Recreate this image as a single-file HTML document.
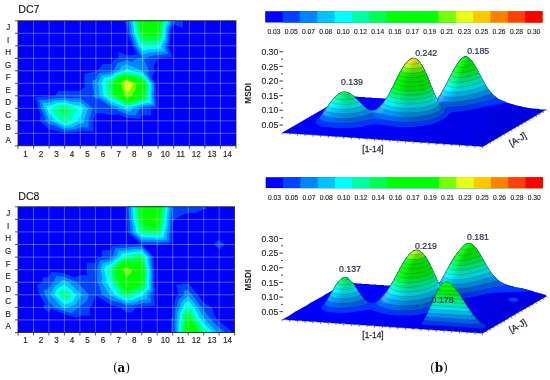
<!DOCTYPE html>
<html><head><meta charset="utf-8"><title>MSDI DC7 DC8</title>
<style>html,body{margin:0;padding:0;background:#fff}svg{display:block}text{font-family:"Liberation Sans",Arial,sans-serif}.cap text{font-family:"DejaVu Serif","Liberation Serif",serif}</style>
</head><body>
<svg width="550" height="380" viewBox="0 0 550 380">
<rect width="550" height="380" fill="#fff"/>
<text x="18.3" y="13.3" font-size="10.6" fill="#1a1a1a" stroke="#1a1a1a" stroke-width="0.15">DC7</text>
<rect x="18" y="20.8" width="218" height="125" fill="#0000ff"/>
<g><path d="M183.2,20.8 182.3,27.7 173.7,23.9 170.6,30.8 170.3,33.3 169.9,42.8 168.2,45.8 172,56.9 158.1,58.1 157.9,58.1 157.4,58.3 153.5,67 155,70.8 151.9,78.3 155.8,83.3 155.8,93.9 155.7,95.8 157.1,107.5 151.1,108.3 151.1,115.2 142.6,115.2 140.2,118.9 127,118.1 118.3,113.8 111.4,115.2 102.1,113.3 95.9,113.3 94,119.3 93.4,120.8 93.4,131.4 80.3,131 78.5,131.9 64.7,132.9 63.3,132.2 49.1,129.4 39.5,120.8 40.8,114.1 38,108.3 35.4,97.2 49.1,96.5 49.7,96.3 55.4,95.8 58.5,90.8 64.7,90.8 74.1,90.8 80.3,90.8 85,87 84.3,83.3 84.3,74 95.9,71.3 96,70.9 97.2,70.8 102.9,63.9 111.4,63.9 113.4,59.9 118.4,58.3 118.4,51.4 127,55.5 137.1,53.9 132.3,45.8 127.8,33.9 127.5,33.3 127,28.3 124.9,20.8 127,20.8 142.6,20.8 158.1,20.8 173.7,20.8Z" fill="#0040ff"/>
<path d="M172.8,20.8 169,29.5 168.5,33.3 168.2,41.3 165.6,45.8 168.5,54.1 158.1,55 154.3,55.2 144.7,58.3 144.1,59.5 148.8,70.8 147.2,74.5 154.1,83.3 154.1,92.5 153.8,95.8 155,105.8 142.6,107.5 141.9,107.8 139.8,108.3 135.6,115.2 127,114.6 114.2,108.3 111.4,107.2 100.5,99.5 95.9,98.3 92.7,95.8 94.3,94.5 92.3,83.3 92.3,80.4 95.9,79.6 98.8,73.1 111.4,71.8 112,71.3 113.6,70.8 117.4,63.1 127,60 131.4,61.8 137.9,58.3 141.8,57.7 134.7,45.8 131.3,36.7 129.7,33.3 128.6,22.1 128.3,20.8 142.6,20.8 158.1,20.8ZM49.1,99.6 52.4,98.4 64.7,97.4 67.8,98.3 80.3,98.3 92.7,108.3 90.3,116.3 88.6,120.8 88.6,127.5 80.3,127.3 75.7,129.6 64.7,130.4 55.1,125.6 49.1,124.4 45.1,120.8 45.7,118 40.9,108.3 39,100.1Z" fill="#0084ff"/>
<path d="M170.6,20.8 167.3,28.2 166.7,33.3 166.4,39.9 163.1,45.8 165,51.3 158.1,51.9 150.7,52.3 142.6,54.9 137.2,45.8 134.8,39.5 132,33.3 131.1,24.1 130.3,20.8 142.6,20.8 158.1,20.8ZM127,64.5 142.6,70.8 152.3,83.3 152.3,91.1 151.9,95.8 153,104.1 142.6,105.6 140.2,106.4 132.8,108.3 130.9,111.4 127,111.2 121.2,108.3 111.4,104.4 99.2,95.8 98.3,85.2 97.9,83.3 101.5,75.3 111.4,74.3 113.5,72.4 119.2,70.8 121.4,66.3ZM49.1,102.6 55.1,100.6 64.7,99.8 72.5,102 80.3,102 88.1,108.3 86.5,113.3 83.8,120.8 83.8,123.6 80.3,123.5 72.8,127.3 64.7,127.9 50.5,120.8 49.1,119.2 43.8,108.3 42.6,103Z" fill="#00c4ff"/>
<path d="M168.4,20.8 165.7,26.8 164.9,33.3 164.7,38.5 160.5,45.8 161.5,48.5 158.1,48.8 147,49.4 142.6,50.8 139.6,45.8 138.3,42.4 134.2,33.3 133.5,26 132.3,20.8 142.6,20.8 158.1,20.8ZM127,69 131.4,70.8 142.6,73 150.6,83.3 150.6,89.7 150,95.8 150.9,102.5 142.6,103.6 138.5,105 127,108 125.8,107.4 111.4,101.6 103.2,95.8 102.6,88.7 101.7,83.3 104.3,77.5 111.4,76.8 114.9,73.6 124.8,70.8 125.4,69.5ZM49.1,105.7 57.8,102.8 64.7,102.2 77.2,105.8 80.3,105.8 83.4,108.3 82.8,110.3 80.3,117.1 78.8,119.6 78.2,120.8 70,125 64.7,125.4 55.5,120.8 49.1,113.2 46.7,108.3 46.1,105.9Z" fill="#00ffff"/>
<path d="M166.1,20.8 164,25.5 163.1,33.3 162.9,37.1 158.1,45.6 157.8,45.6 155,45.8 143.4,46.4 142.6,46.7 142,45.8 141.8,45.2 136.5,33.3 135.9,28 134.3,20.8 142.6,20.8 158.1,20.8ZM111.4,79.3 116.4,74.8 127,71.8 129.3,72.6 142.6,75.3 148.8,83.3 148.8,88.3 148.2,95.8 148.8,100.8 142.6,101.7 136.8,103.7 127,106.2 118.8,101.7 111.4,98.8 107.2,95.8 106.9,92.1 105.4,83.3 107,79.7ZM64.7,104.6 77.5,108.3 73.3,115.2 70.9,120.8 67.1,122.7 64.7,122.9 60.5,120.8 51.7,110.4 50.6,108.3 60.5,104.9Z" fill="#00ffa0"/>
<path d="M163.9,20.8 162.4,24.2 161.3,33.3 161.2,35.7 158.1,41 152.2,41 142.6,41.9 138.7,33.3 138.4,29.9 136.3,20.8 142.6,20.8 158.1,20.8ZM111.4,81.8 117.8,75.9 127,73.4 133,75.6 142.6,77.5 147,83.3 147,86.9 146.3,95.8 146.7,99.1 142.6,99.7 135.1,102.3 127,104.4 111.8,96.1 111.4,96 111.2,95.8 111.2,95.6 109.1,83.3 109.7,82ZM64.7,107 69.3,108.3 67.8,110.8 64.7,117.9 59.7,108.3 63.2,107.1Z" fill="#00ff50"/>
<path d="M161.6,20.8 160.7,22.9 159.4,33.3 159.4,34.3 158.1,36.5 146.6,36.5 142.6,36.9 141,33.3 140.8,31.9 138.3,20.8 142.6,20.8 158.1,20.8ZM127,74.9 136.8,78.6 142.6,79.8 145.3,83.3 145.3,85.5 144.4,95.8 144.6,97.5 142.6,97.8 133.4,101 127,102.6 114.5,95.8 112.9,84.5 112.5,83.3 119.3,77.1Z" fill="#00ff00"/>
<path d="M159.4,20.8 159.1,21.5 158.1,29.1 155,30.8 142.6,30.8 140.3,20.8 142.6,20.8 158.1,20.8ZM127,76.5 140.5,81.6 142.6,82 143.5,83.3 143.5,84.1 142.6,95.8 142.6,95.8 131.7,99.6 127,100.8 117.8,95.8 116.6,87.5 115.2,83.3 120.8,78.3Z" fill="#00ff00"/>
<path d="M145.7,20.8 143.8,21.8 142.6,21.8 142.3,20.8 142.6,20.8ZM127,78.1 140.7,83.3 138.9,92.9 137,95.8 130,98.2 127,99 121.1,95.8 120.4,90.5 118,83.3 122.2,79.5Z" fill="#00ff00"/>
<path d="M127,79.7 136.5,83.3 135.3,90 131.4,95.8 128.3,96.9 127,97.2 124.4,95.8 124.1,93.5 120.7,83.3 123.7,80.6Z" fill="#78ff08"/>
<path d="M127,81.3 132.3,83.3 131.7,87 127,93.9 123.5,83.3 125.1,81.8Z" fill="#e4ff18"/>
<path d="M127,82.9 128.2,83.3 128,84.1 127,85.6 126.2,83.3 126.6,83Z" fill="#ffc800"/></g>
<path d="M33.6,20.8V145.8M49.1,20.8V145.8M64.7,20.8V145.8M80.3,20.8V145.8M95.9,20.8V145.8M111.4,20.8V145.8M127,20.8V145.8M142.6,20.8V145.8M158.1,20.8V145.8M173.7,20.8V145.8M189.3,20.8V145.8M204.9,20.8V145.8M220.4,20.8V145.8M18,33.3H236M18,45.8H236M18,58.3H236M18,70.8H236M18,83.3H236M18,95.8H236M18,108.3H236M18,120.8H236M18,133.3H236" stroke="#e0e0e8" stroke-opacity="0.55" stroke-width="0.7" fill="none"/>
<rect x="18" y="20.8" width="218" height="125" fill="none" stroke="#222" stroke-width="0.8"/>
<path d="M18,145.8v3M33.6,145.8v3M49.1,145.8v3M64.7,145.8v3M80.3,145.8v3M95.9,145.8v3M111.4,145.8v3M127,145.8v3M142.6,145.8v3M158.1,145.8v3M173.7,145.8v3M189.3,145.8v3M204.9,145.8v3M220.4,145.8v3M236,145.8v3M18,20.8h-3M18,33.3h-3M18,45.8h-3M18,58.3h-3M18,70.8h-3M18,83.3h-3M18,95.8h-3M18,108.3h-3M18,120.8h-3M18,133.3h-3M18,145.8h-3" stroke="#2a2a2a" stroke-width="0.8" fill="none"/>
<g font-size="8.7" fill="#222" stroke="#222" stroke-width="0.15" text-anchor="middle">
<text transform="translate(25.5,156.9) scale(0.93,1)">1</text>
<text transform="translate(41,156.9) scale(0.93,1)">2</text>
<text transform="translate(56.6,156.9) scale(0.93,1)">3</text>
<text transform="translate(72.1,156.9) scale(0.93,1)">4</text>
<text transform="translate(87.6,156.9) scale(0.93,1)">5</text>
<text transform="translate(103.1,156.9) scale(0.93,1)">6</text>
<text transform="translate(118.7,156.9) scale(0.93,1)">7</text>
<text transform="translate(134.2,156.9) scale(0.93,1)">8</text>
<text transform="translate(149.7,156.9) scale(0.93,1)">9</text>
<text transform="translate(165.3,156.9) scale(0.93,1)">10</text>
<text transform="translate(180.8,156.9) scale(0.93,1)">11</text>
<text transform="translate(196.3,156.9) scale(0.93,1)">12</text>
<text transform="translate(211.9,156.9) scale(0.93,1)">13</text>
<text transform="translate(227.4,156.9) scale(0.93,1)">14</text>
<text transform="translate(8.2,30.2) scale(0.93,1)">J</text>
<text transform="translate(8.2,42.8) scale(0.93,1)">I</text>
<text transform="translate(8.2,55.2) scale(0.93,1)">H</text>
<text transform="translate(8.2,67.8) scale(0.93,1)">G</text>
<text transform="translate(8.2,80.2) scale(0.93,1)">F</text>
<text transform="translate(8.2,92.8) scale(0.93,1)">E</text>
<text transform="translate(8.2,105.2) scale(0.93,1)">D</text>
<text transform="translate(8.2,117.8) scale(0.93,1)">C</text>
<text transform="translate(8.2,130.2) scale(0.93,1)">B</text>
<text transform="translate(8.2,142.8) scale(0.93,1)">A</text>
</g>
<text x="18.3" y="199.8" font-size="10.6" fill="#1a1a1a" stroke="#1a1a1a" stroke-width="0.15">DC8</text>
<rect x="18" y="206.8" width="216.6" height="125.7" fill="#0000ff"/>
<g><path d="M206.5,206.8 206.5,209.1 203.7,209.1 195.9,213.1 188.2,213.1 182.6,214.8 174.3,219.4 174.3,220.6 172.7,221.9 172.3,231.6 172.1,231.9 171.4,243.5 158.8,244.5 158.8,245.8 157.2,244.9 142.3,244.9 153.8,257.1 153.8,266.8 154.4,269.7 154.4,279.9 154.3,282.2 155.1,293.1 153.6,294.8 155.3,305.7 141.8,306.6 141.2,306.9 135.6,307.4 132.5,312.4 126.3,312.4 120.1,307.4 110.8,305.1 96.9,296 95.4,296 92.6,305.1 89.8,307.4 89.8,315.4 79.9,315.4 77.1,317.7 64.4,313.8 51,309 48.9,312.4 42.8,307.4 45.2,304.3 39.4,294.8 37,285 42.8,282.2 42.8,277.2 48.9,277.2 51.5,271.7 64.4,273.3 74.2,277.6 79.9,275.3 86.8,275.3 86.8,269.7 86.8,262.7 95.4,262.7 96.8,258.3 102.3,257.1 102.3,250.2 110.8,250.2 112.4,245.8 126.3,245.1 126.9,245 138.7,244.5 140.2,243.3 127.7,231.9 127,219.9 126.8,219.4 126.3,206.8 141.8,206.8 157.2,206.8 172.7,206.8 188.2,206.8 203.7,206.8ZM171.2,332.5 171.2,331.2 171.2,319.9 171.2,318.7 172.7,317.4 173.2,307.8 173.4,307.4 175.7,297.2 178.6,294.8 176.2,285 188.2,283.3 197.8,294.8 203.7,302.8 212.2,307.4 215,316.6 217.8,319.9 219.1,321.4 232.8,332.5 219.1,332.5 203.7,332.5 188.2,332.5 172.7,332.5ZM219.1,240.1 224.5,244.5 222.4,247.1 219.1,248.9 213.7,244.5 215.9,241.9Z" fill="#0040ff"/>
<path d="M172.5,206.8 170.8,217.9 170.7,219.4 170.2,229.9 169.5,231.9 168.9,241.4 157.2,242.4 154.3,242.1 141.8,242.1 130.5,231.9 129.9,222.3 129,219.4 128.6,208.7 128.4,206.8 141.8,206.8 157.2,206.8ZM174.6,332.5 174.6,321.5 174.9,319.9 175.4,309.6 176.7,307.4 178.4,299.4 184.2,294.8 183.2,290.7 188.2,290 192.2,294.8 198.2,303 202.1,307.4 203.7,310.3 211.6,319.9 219.1,327.8 224.9,332.5 219.1,332.5 203.7,332.5 188.2,332.5ZM219.1,243.9 219.9,244.5 219.6,244.9 219.1,245.1 218.4,244.5 218.7,244.1ZM126.3,247.8 129.5,247.1 141.8,246.6 151.6,257.1 151.6,265.1 152.7,269.7 152.7,278.5 152.4,282.2 153.2,291.5 150.1,294.8 151.3,302.5 141.8,303.1 138.4,304.6 126.3,305.7 121,303.1 110.8,300.6 101.9,294.8 99,285.2 97.2,282.2 97.2,271.1 96.8,269.7 99.8,260.7 110.8,258.3 111.5,257.6 112.4,257.1 115.5,248.3ZM64.4,276.8 76.8,282.2 79.9,285.2 88.8,294.8 87,300.6 79.9,306.4 79.5,307.1 78.6,307.4 71.5,313.1 64.4,311 54.2,307.4 48.9,301.3 44.9,294.8 43.9,290.7 48.9,288.3 51,283.9 53.6,282.2 56.5,275.8Z" fill="#0084ff"/>
<path d="M170.3,206.8 168.9,216.2 168.5,219.4 168.1,228.2 166.8,231.9 166.4,239.4 157.2,240.1 151.2,239.6 141.8,239.6 133.3,231.9 132.8,224.7 131.3,219.4 130.9,210.5 130.6,206.8 141.8,206.8 157.2,206.8ZM176.6,332.5 176.6,323.1 177.2,319.9 177.7,311.4 180,307.4 181.2,301.7 188.2,296 198.1,307.4 203.7,317.8 205.4,319.9 211.4,326.2 217.8,332.5 203.7,332.5 188.2,332.5ZM126.3,250.4 132.2,249.3 141.8,248.9 149.5,257.1 149.5,263.4 151,269.7 151,277.1 150.5,282.2 151.2,289.9 146.6,294.8 147.3,299.3 141.8,299.6 135.6,302.3 126.3,303.2 113,296.6 110.8,296 108.9,294.8 108.2,292.7 101.8,282.2 101.8,274.9 100.5,269.7 102.7,263 110.8,261.3 113.1,258.9 116.4,257.1 118.6,250.8ZM64.4,280.3 68.8,282.2 79.9,292.7 81.8,294.8 81.4,296 79.9,297.3 76.1,304.3 67.5,307.4 66,308.6 64.4,308.1 62.2,307.4 56.7,301.1 50.1,294.8 54,286.3 60.5,282.2 61.6,279.9Z" fill="#00c4ff"/>
<path d="M168,206.8 166.9,214.6 166.4,219.4 166.1,226.5 164.2,231.9 163.9,237.3 157.2,237.8 148.1,237.1 141.8,237.1 136,231.9 135.7,227 133.5,219.4 133.2,212.4 132.7,206.8 141.8,206.8 157.2,206.8ZM178.7,332.5 178.7,324.8 179.5,319.9 179.9,313.2 183.3,307.4 184,304 188.2,300.6 194.2,307.4 198.6,315.8 201.1,319.9 203.7,323.2 213.2,332.5 203.7,332.5 188.2,332.5ZM126.3,253.1 134.8,251.5 141.8,251.2 147.4,257.1 147.4,261.6 149.2,269.7 149.2,275.7 148.7,282.2 149.2,288.2 143.1,294.8 143.3,296 141.8,296.1 132.8,300.1 126.3,300.7 114.5,294.8 110.8,289.3 106.4,282.2 106.4,278.7 104.2,269.7 105.6,265.4 110.8,264.3 114.8,260.3 120.3,257.1 121.7,253.3ZM64.4,284.2 76.4,294.8 72.7,301.5 64.4,304.5 54.3,294.8 57,288.8Z" fill="#00ffff"/>
<path d="M165.8,206.8 164.9,213 164.3,219.4 164,224.9 161.5,231.9 161.3,235.3 157.2,235.6 145,234.6 141.8,234.6 138.8,231.9 138.7,229.4 135.7,219.4 135.5,214.3 134.8,206.8 141.8,206.8 157.2,206.8ZM180.7,332.5 180.7,326.4 181.9,319.9 182.1,315 186.5,307.4 186.8,306.2 188.2,305.1 190.2,307.4 191.7,310.2 197.7,319.9 203.7,327.7 208.6,332.5 203.7,332.5 188.2,332.5ZM126.3,255.7 137.5,253.6 141.8,253.4 145.2,257.1 145.2,259.9 147.5,269.7 147.5,274.3 146.8,282.2 147.2,286.6 141.8,292.5 139.9,293.3 136.9,294.8 130,297.8 126.3,298.1 119.5,294.8 111.4,282.7 111,282.2 110.8,281.4 107.9,269.7 108.5,267.8 110.8,267.3 116.4,261.6 124.3,257.1 124.8,255.8ZM64.4,288.5 71.5,294.8 69.3,298.8 64.4,300.5 58.4,294.8 60,291.2Z" fill="#00ffa0"/>
<path d="M163.6,206.8 162.9,211.4 162.1,219.4 161.9,223.2 158.9,231.9 158.8,233.2 157.2,233.3 141.9,232.1 141.8,232.1 141.6,231.9 141.6,231.8 137.9,219.4 137.8,216.1 136.9,206.8 141.8,206.8 157.2,206.8ZM182.7,332.5 182.7,328 184.2,319.9 184.3,316.8 188.2,310.2 194.2,319.9 203.7,332.2 203.9,332.5 203.7,332.5 188.2,332.5ZM141.8,255.7 143.1,257.1 143.1,258.1 145.7,269.7 145.7,272.9 145,282.2 145.2,285 141.8,288.7 136.8,290.7 129,294.8 127.2,295.5 126.3,295.6 124.6,294.8 122.6,291.8 114.5,282.2 111.8,270.4 111.5,269.7 118.1,263 126.3,258.2 129.1,259.3 133.3,257.1 140.2,255.8ZM64.4,292.9 66.6,294.8 65.9,296 64.4,296.6 62.6,294.8 63.1,293.7Z" fill="#00ff50"/>
<path d="M161.4,206.8 161,209.8 160,219.4 159.9,221.5 157.2,229 151.8,227.5 141.8,224.8 140.2,219.4 140.1,218 139.1,206.8 141.8,206.8 157.2,206.8ZM184.7,332.5 184.7,329.7 186.5,319.9 186.6,318.6 188.2,315.8 190.7,319.9 194.9,325.4 198.2,332.5 188.2,332.5ZM126.3,260.5 134.7,263.9 141.8,260 144,269.7 144,271.5 143.1,282.2 143.2,283.4 141.8,284.9 133.7,288.2 126.3,292 118,282.2 116.1,273.9 114.4,269.7 119.7,264.3Z" fill="#00ff00"/>
<path d="M159.2,206.8 159,208.2 157.8,219.4 157.8,219.8 157.2,221.5 149.5,219.4 141.8,213.1 141.2,206.8 141.8,206.8 157.2,206.8ZM186.7,332.5 186.7,331.3 188.2,323.4 192.4,332.5 188.2,332.5ZM126.3,262.8 140.2,268.4 141.8,267.6 142.3,269.7 142.3,270 141.8,275.9 140.5,281.2 139.2,282.2 130.6,285.7 126.3,287.9 121.5,282.2 120.3,277.4 117.4,269.7 121.4,265.6Z" fill="#00ff00"/>
<path d="M126.3,265.1 137.7,269.7 135.7,277.3 129.9,282.2 127.5,283.2 126.3,283.8 124.9,282.2 124.6,280.9 120.4,269.6 123,267Z" fill="#00ff00"/>
<path d="M126.3,267.4 132,269.7 131,273.5 126.3,277.5 123.3,269.7 124.7,268.3Z" fill="#78ff08"/>
<path d="M126.3,269.7 126.3,269.7 126.3,269.7 126.3,269.6Z" fill="#e4ff18"/></g>
<path d="M33.5,206.8V332.5M48.9,206.8V332.5M64.4,206.8V332.5M79.9,206.8V332.5M95.4,206.8V332.5M110.8,206.8V332.5M126.3,206.8V332.5M141.8,206.8V332.5M157.2,206.8V332.5M172.7,206.8V332.5M188.2,206.8V332.5M203.7,206.8V332.5M219.1,206.8V332.5M18,219.4H234.6M18,231.9H234.6M18,244.5H234.6M18,257.1H234.6M18,269.7H234.6M18,282.2H234.6M18,294.8H234.6M18,307.4H234.6M18,319.9H234.6" stroke="#e0e0e8" stroke-opacity="0.55" stroke-width="0.7" fill="none"/>
<rect x="18" y="206.8" width="216.6" height="125.7" fill="none" stroke="#222" stroke-width="0.8"/>
<path d="M18,332.5v3M33.5,332.5v3M48.9,332.5v3M64.4,332.5v3M79.9,332.5v3M95.4,332.5v3M110.8,332.5v3M126.3,332.5v3M141.8,332.5v3M157.2,332.5v3M172.7,332.5v3M188.2,332.5v3M203.7,332.5v3M219.1,332.5v3M234.6,332.5v3M18,206.8h-3M18,219.4h-3M18,231.9h-3M18,244.5h-3M18,257.1h-3M18,269.7h-3M18,282.2h-3M18,294.8h-3M18,307.4h-3M18,319.9h-3M18,332.5h-3" stroke="#2a2a2a" stroke-width="0.8" fill="none"/>
<g font-size="8.7" fill="#222" stroke="#222" stroke-width="0.15" text-anchor="middle">
<text transform="translate(25.5,342.9) scale(0.93,1)">1</text>
<text transform="translate(41,342.9) scale(0.93,1)">2</text>
<text transform="translate(56.6,342.9) scale(0.93,1)">3</text>
<text transform="translate(72.1,342.9) scale(0.93,1)">4</text>
<text transform="translate(87.6,342.9) scale(0.93,1)">5</text>
<text transform="translate(103.1,342.9) scale(0.93,1)">6</text>
<text transform="translate(118.7,342.9) scale(0.93,1)">7</text>
<text transform="translate(134.2,342.9) scale(0.93,1)">8</text>
<text transform="translate(149.7,342.9) scale(0.93,1)">9</text>
<text transform="translate(165.3,342.9) scale(0.93,1)">10</text>
<text transform="translate(180.8,342.9) scale(0.93,1)">11</text>
<text transform="translate(196.3,342.9) scale(0.93,1)">12</text>
<text transform="translate(211.9,342.9) scale(0.93,1)">13</text>
<text transform="translate(227.4,342.9) scale(0.93,1)">14</text>
<text transform="translate(8.2,216.3) scale(0.93,1)">J</text>
<text transform="translate(8.2,228.9) scale(0.93,1)">I</text>
<text transform="translate(8.2,241.4) scale(0.93,1)">H</text>
<text transform="translate(8.2,254) scale(0.93,1)">G</text>
<text transform="translate(8.2,266.6) scale(0.93,1)">F</text>
<text transform="translate(8.2,279.1) scale(0.93,1)">E</text>
<text transform="translate(8.2,291.7) scale(0.93,1)">D</text>
<text transform="translate(8.2,304.3) scale(0.93,1)">C</text>
<text transform="translate(8.2,316.8) scale(0.93,1)">B</text>
<text transform="translate(8.2,329.4) scale(0.93,1)">A</text>
</g>
<rect x="265.2" y="11.2" width="277.2" height="11.3" fill="#0000ff"/>
<rect x="282.5" y="11.2" width="259.9" height="11.3" fill="#0040ff"/>
<rect x="299.8" y="11.2" width="242.6" height="11.3" fill="#0084ff"/>
<rect x="317.2" y="11.2" width="225.2" height="11.3" fill="#00c4ff"/>
<rect x="334.5" y="11.2" width="207.9" height="11.3" fill="#00ffff"/>
<rect x="351.8" y="11.2" width="190.6" height="11.3" fill="#00ffa0"/>
<rect x="369.1" y="11.2" width="173.2" height="11.3" fill="#00ff50"/>
<rect x="386.5" y="11.2" width="155.9" height="11.3" fill="#00ff00"/>
<rect x="438.4" y="11.2" width="103.9" height="11.3" fill="#78ff08"/>
<rect x="455.8" y="11.2" width="86.6" height="11.3" fill="#e4ff18"/>
<rect x="473.1" y="11.2" width="69.3" height="11.3" fill="#ffc800"/>
<rect x="490.4" y="11.2" width="52" height="11.3" fill="#ff8000"/>
<rect x="507.8" y="11.2" width="34.6" height="11.3" fill="#ff4008"/>
<rect x="525.1" y="11.2" width="17.3" height="11.3" fill="#ff0000"/>
<g font-size="6.7" fill="#2a2a2a" stroke="#2a2a2a" stroke-width="0.15" text-anchor="middle">
<text x="273.9" y="33.5">0.03</text>
<text x="291.2" y="33.5">0.05</text>
<text x="308.5" y="33.5">0.07</text>
<text x="325.8" y="33.5">0.08</text>
<text x="343.2" y="33.5">0.10</text>
<text x="360.5" y="33.5">0.12</text>
<text x="377.8" y="33.5">0.14</text>
<text x="395.1" y="33.5">0.16</text>
<text x="412.5" y="33.5">0.17</text>
<text x="429.8" y="33.5">0.19</text>
<text x="447.1" y="33.5">0.21</text>
<text x="464.4" y="33.5">0.23</text>
<text x="481.8" y="33.5">0.25</text>
<text x="499.1" y="33.5">0.26</text>
<text x="516.4" y="33.5">0.28</text>
<text x="533.7" y="33.5">0.30</text>
</g>
<rect x="265.7" y="177.2" width="277.2" height="10.9" fill="#0000ff"/>
<rect x="283" y="177.2" width="259.9" height="10.9" fill="#0040ff"/>
<rect x="300.3" y="177.2" width="242.6" height="10.9" fill="#0084ff"/>
<rect x="317.7" y="177.2" width="225.2" height="10.9" fill="#00c4ff"/>
<rect x="335" y="177.2" width="207.9" height="10.9" fill="#00ffff"/>
<rect x="352.3" y="177.2" width="190.6" height="10.9" fill="#00ffa0"/>
<rect x="369.6" y="177.2" width="173.2" height="10.9" fill="#00ff50"/>
<rect x="387" y="177.2" width="155.9" height="10.9" fill="#00ff00"/>
<rect x="438.9" y="177.2" width="103.9" height="10.9" fill="#78ff08"/>
<rect x="456.3" y="177.2" width="86.6" height="10.9" fill="#e4ff18"/>
<rect x="473.6" y="177.2" width="69.3" height="10.9" fill="#ffc800"/>
<rect x="490.9" y="177.2" width="52" height="10.9" fill="#ff8000"/>
<rect x="508.2" y="177.2" width="34.6" height="10.9" fill="#ff4008"/>
<rect x="525.6" y="177.2" width="17.3" height="10.9" fill="#ff0000"/>
<g font-size="6.7" fill="#2a2a2a" stroke="#2a2a2a" stroke-width="0.15" text-anchor="middle">
<text x="274.4" y="199.5">0.03</text>
<text x="291.7" y="199.5">0.05</text>
<text x="309" y="199.5">0.07</text>
<text x="326.3" y="199.5">0.08</text>
<text x="343.7" y="199.5">0.10</text>
<text x="361" y="199.5">0.12</text>
<text x="378.3" y="199.5">0.14</text>
<text x="395.6" y="199.5">0.16</text>
<text x="413" y="199.5">0.17</text>
<text x="430.3" y="199.5">0.19</text>
<text x="447.6" y="199.5">0.21</text>
<text x="464.9" y="199.5">0.23</text>
<text x="482.3" y="199.5">0.25</text>
<text x="499.6" y="199.5">0.26</text>
<text x="516.9" y="199.5">0.28</text>
<text x="534.2" y="199.5">0.30</text>
</g>
<g><defs><linearGradient id="dga" gradientUnits="userSpaceOnUse" x1="492.6" y1="146.6" x2="372.6" y2="86.6"><stop offset="0" stop-color="#000020" stop-opacity="0.13"/><stop offset="1" stop-color="#000020" stop-opacity="0"/></linearGradient></defs><defs><clipPath id="clipa"><path d="M546.1,109.6 543.1,109.6 542.9,109.4 540.1,109.4 539.9,109.1 532.6,108.6 532.4,108.4 529.1,108.1 528.9,107.9 527.6,107.9 527.4,107.6 522.6,106.9 522.4,106.6 516.6,105.4 512.1,103.9 511.4,103.9 508.9,102.9 508.1,102.9 501.9,100.6 498.4,98.9 493.4,95.1 489.1,90.4 484.9,84.1 476.1,67.9 472.9,62.6 471.4,60.6 468.9,58.1 466.4,56.9 464.6,56.9 462.9,57.6 460.9,59.4 458.9,61.9 453.1,71.1 446.4,84.4 445.9,84.9 442.4,91.6 438.9,97.1 437.1,99.4 436.6,98.9 433.6,92.4 433.1,90.6 432.4,89.4 431.4,86.4 430.6,85.1 430.6,84.6 428.4,79.6 427.9,77.9 427.1,76.6 427.1,76.1 426.1,74.4 426.1,73.9 422.4,66.4 420.1,62.9 417.6,60.1 415.1,58.6 412.6,58.4 409.4,59.9 406.4,62.9 402.9,67.9 400.6,72.1 400.1,72.6 398.6,75.9 398.1,76.4 390.4,91.9 389.9,92.4 387.4,97.1 386.1,98.6 376.1,98.1 375.9,97.9 372.4,97.9 372.1,97.6 368.6,97.6 368.4,97.4 365.1,97.4 364.9,97.1 361.4,97.1 361.1,96.9 357.9,96.9 357.6,96.6 354.1,96.6 351.6,94.6 348.6,92.9 346.1,92.1 342.9,92.1 342.6,92.4 341.9,92.4 339.1,93.6 337.4,94.9 332.9,99.4 327.4,106.6 282.4,132.6 283.1,132.9 286.6,132.9 286.9,133.1 290.1,133.1 290.4,133.4 301.1,133.9 301.4,134.1 308.4,134.4 308.6,134.6 315.6,134.9 315.9,135.1 322.9,135.4 323.1,135.6 330.1,135.9 330.4,136.1 337.4,136.4 337.6,136.6 344.6,136.9 344.9,137.1 348.4,137.1 348.6,137.4 352.1,137.4 352.4,137.6 355.6,137.6 355.9,137.9 359.4,137.9 359.6,138.1 362.9,138.1 363.1,138.4 366.6,138.4 366.9,138.6 370.1,138.6 370.4,138.9 373.9,138.9 374.1,139.1 377.4,139.1 377.6,139.4 381.1,139.4 381.4,139.6 384.6,139.6 384.9,139.9 388.4,139.9 388.6,140.1 391.9,140.1 392.1,140.4 395.6,140.4 395.9,140.6 399.4,140.6 399.6,140.9 402.9,140.9 403.1,141.1 406.6,141.1 406.9,141.4 410.1,141.4 410.4,141.6 413.9,141.6 414.1,141.9 417.4,141.9 417.6,142.1 421.1,142.1 421.4,142.4 424.6,142.4 424.9,142.6 428.4,142.6 428.6,142.9 431.9,142.9 432.1,143.1 435.6,143.1 435.9,143.4 439.1,143.4 439.4,143.6 442.9,143.6 443.1,143.9 446.4,143.9 446.6,144.1 450.1,144.1 450.4,144.4 453.9,144.4 454.1,144.6 461.1,144.9 461.4,145.1 464.6,145.1 464.9,145.4 468.4,145.4 468.6,145.6 471.9,145.6 472.1,145.9 475.6,145.9 475.9,146.1 479.1,146.1 479.4,146.4 482.9,146.4Z" clip-rule="evenodd"/></clipPath><filter id="bla" x="-5%" y="-5%" width="110%" height="110%"><feGaussianBlur stdDeviation="1.6"/></filter></defs><path d="M546.1,109.6 543.1,109.6 542.9,109.4 540.1,109.4 539.9,109.1 532.6,108.6 532.4,108.4 529.1,108.1 528.9,107.9 527.6,107.9 527.4,107.6 522.6,106.9 522.4,106.6 516.6,105.4 512.1,103.9 511.4,103.9 508.9,102.9 508.1,102.9 501.9,100.6 498.4,98.9 493.4,95.1 489.1,90.4 484.9,84.1 476.1,67.9 472.9,62.6 471.4,60.6 468.9,58.1 466.4,56.9 464.6,56.9 462.9,57.6 460.9,59.4 458.9,61.9 453.1,71.1 446.4,84.4 445.9,84.9 442.4,91.6 438.9,97.1 437.1,99.4 436.6,98.9 433.6,92.4 433.1,90.6 432.4,89.4 431.4,86.4 430.6,85.1 430.6,84.6 428.4,79.6 427.9,77.9 427.1,76.6 427.1,76.1 426.1,74.4 426.1,73.9 422.4,66.4 420.1,62.9 417.6,60.1 415.1,58.6 412.6,58.4 409.4,59.9 406.4,62.9 402.9,67.9 400.6,72.1 400.1,72.6 398.6,75.9 398.1,76.4 390.4,91.9 389.9,92.4 387.4,97.1 386.1,98.6 376.1,98.1 375.9,97.9 372.4,97.9 372.1,97.6 368.6,97.6 368.4,97.4 365.1,97.4 364.9,97.1 361.4,97.1 361.1,96.9 357.9,96.9 357.6,96.6 354.1,96.6 351.6,94.6 348.6,92.9 346.1,92.1 342.9,92.1 342.6,92.4 341.9,92.4 339.1,93.6 337.4,94.9 332.9,99.4 327.4,106.6 282.4,132.6 283.1,132.9 286.6,132.9 286.9,133.1 290.1,133.1 290.4,133.4 301.1,133.9 301.4,134.1 308.4,134.4 308.6,134.6 315.6,134.9 315.9,135.1 322.9,135.4 323.1,135.6 330.1,135.9 330.4,136.1 337.4,136.4 337.6,136.6 344.6,136.9 344.9,137.1 348.4,137.1 348.6,137.4 352.1,137.4 352.4,137.6 355.6,137.6 355.9,137.9 359.4,137.9 359.6,138.1 362.9,138.1 363.1,138.4 366.6,138.4 366.9,138.6 370.1,138.6 370.4,138.9 373.9,138.9 374.1,139.1 377.4,139.1 377.6,139.4 381.1,139.4 381.4,139.6 384.6,139.6 384.9,139.9 388.4,139.9 388.6,140.1 391.9,140.1 392.1,140.4 395.6,140.4 395.9,140.6 399.4,140.6 399.6,140.9 402.9,140.9 403.1,141.1 406.6,141.1 406.9,141.4 410.1,141.4 410.4,141.6 413.9,141.6 414.1,141.9 417.4,141.9 417.6,142.1 421.1,142.1 421.4,142.4 424.6,142.4 424.9,142.6 428.4,142.6 428.6,142.9 431.9,142.9 432.1,143.1 435.6,143.1 435.9,143.4 439.1,143.4 439.4,143.6 442.9,143.6 443.1,143.9 446.4,143.9 446.6,144.1 450.1,144.1 450.4,144.4 453.9,144.4 454.1,144.6 461.1,144.9 461.4,145.1 464.6,145.1 464.9,145.4 468.4,145.4 468.6,145.6 471.9,145.6 472.1,145.9 475.6,145.9 475.9,146.1 479.1,146.1 479.4,146.4 482.9,146.4Z" fill="#0000ff" fill-rule="evenodd"/>
<path d="M506.1,102.1 501.9,100.6 498.4,98.9 495.1,96.6 491.6,93.4 487.6,88.4 484.9,84.1 476.1,67.9 472.9,62.6 471.4,60.6 468.9,58.1 466.4,56.9 464.6,56.9 462.9,57.6 460.9,59.4 458.9,61.9 453.1,71.1 446.4,84.4 445.9,84.9 442.4,91.6 438.1,98.1 437.4,98.9 436.9,98.9 436.4,98.4 434.6,94.6 434.6,94.1 433.6,92.4 433.1,90.6 432.4,89.4 431.4,86.4 430.6,85.1 430.6,84.6 428.4,79.6 427.9,77.9 427.1,76.6 427.1,76.1 426.1,74.4 426.1,73.9 422.4,66.4 420.1,62.9 417.6,60.1 415.1,58.6 412.6,58.4 409.4,59.9 405.4,64.1 400.1,72.6 392.9,87.1 392.4,87.6 390.4,91.9 389.9,92.4 387.4,97.1 384.6,101.4 382.1,104.6 377.6,108.9 375.4,110.1 373.6,110.6 371.1,110.6 369.4,110.1 366.4,108.4 363.9,106.4 353.9,96.4 351.6,94.6 349.6,93.4 347.1,92.4 346.4,92.4 346.1,92.1 342.9,92.1 340.6,92.9 338.4,94.1 332.9,99.4 329.4,103.9 321.6,114.9 319.4,117.6 315.9,121.1 315.6,121.6 315.6,123.1 316.9,124.6 318.4,125.4 321.9,126.4 325.6,126.9 325.9,127.1 327.6,127.1 327.9,127.4 333.1,127.6 333.4,127.9 336.6,127.9 336.9,128.1 350.1,128.1 350.4,127.9 356.4,127.6 356.6,127.4 358.4,127.4 358.6,127.1 361.4,126.9 362.9,126.4 364.1,126.4 366.4,125.6 367.6,125.6 368.9,125.1 369.9,125.1 371.4,124.6 373.1,124.6 373.4,124.4 379.9,124.4 380.1,124.6 381.6,124.6 383.1,125.1 386.1,125.4 387.6,125.9 389.1,125.9 389.4,126.1 390.9,126.1 391.1,126.4 393.1,126.4 393.4,126.6 396.1,126.6 396.4,126.9 402.1,126.9 402.4,127.1 408.1,127.1 408.6,126.9 408.9,127.1 409.1,126.9 414.6,126.9 414.9,126.6 420.4,126.4 420.6,126.1 424.4,125.9 424.6,125.6 426.1,125.6 427.4,125.1 429.6,124.9 436.6,122.6 443.1,119.4 445.4,117.9 449.1,113.9 451.6,112.6 452.6,112.6 454.1,112.1 455.6,112.1 455.9,111.9 457.6,111.9 457.9,111.6 464.1,111.1 464.4,110.9 467.6,110.6 469.1,110.1 470.6,110.1 470.9,109.9 471.9,109.9 472.1,109.6 476.4,108.9 477.6,108.4 478.6,108.4 480.9,107.6 481.9,107.6 483.1,107.1 484.4,107.1 485.6,106.6 486.6,106.6 487.9,106.1 489.1,106.1 489.4,105.9 490.4,105.9 490.6,105.6 491.6,105.6 491.9,105.4 492.9,105.4 494.4,104.9 495.6,104.9 495.9,104.6 498.4,104.4 499.6,103.9 503.1,103.4 503.4,103.1 505.9,102.6Z" fill="#0038ff" fill-rule="evenodd" stroke="#002050" stroke-opacity="0.12" stroke-width="0.45"/>
<path d="M496.4,97.6 491.6,93.4 487.6,88.4 483.1,81.1 476.1,67.9 471.4,60.6 468.1,57.6 466.4,56.9 464.6,56.9 462.9,57.6 460.9,59.4 455.9,66.4 453.6,70.6 453.1,71.1 452.1,73.4 451.6,73.9 446.4,84.4 445.9,84.9 442.4,91.6 438.1,98.1 437.4,98.9 436.9,98.9 436.4,98.4 434.6,94.6 434.6,94.1 433.6,92.4 433.1,90.6 432.4,89.4 431.4,86.4 430.6,85.1 430.6,84.6 428.4,79.6 427.9,77.9 427.1,76.6 427.1,76.1 426.1,74.4 426.1,73.9 422.4,66.4 420.1,62.9 417.6,60.1 415.1,58.6 412.6,58.4 409.4,59.9 405.4,64.1 400.1,72.6 390.4,91.9 389.9,92.4 389.1,94.1 386.1,99.1 382.1,104.6 378.6,108.1 376.9,109.4 373.6,110.6 371.1,110.6 367.9,109.4 363.9,106.4 353.9,96.4 351.6,94.6 349.6,93.4 347.1,92.4 346.4,92.4 346.1,92.1 342.9,92.1 340.6,92.9 338.4,94.1 332.9,99.4 329.4,103.9 323.9,111.9 319.6,117.1 319.6,118.9 320.6,119.9 322.6,120.9 326.1,121.9 327.4,121.9 329.1,122.4 330.9,122.4 331.1,122.6 335.6,122.9 335.9,123.1 342.4,123.1 342.6,123.4 343.4,123.4 343.6,123.1 343.9,123.4 344.1,123.1 349.6,123.1 349.9,122.9 353.1,122.9 353.4,122.6 357.1,122.4 357.4,122.1 358.6,122.1 358.9,121.9 362.6,121.4 362.9,121.1 363.6,121.1 365.9,120.4 366.9,120.4 370.1,119.4 371.1,119.4 372.6,118.9 375.1,118.9 375.4,118.6 376.1,118.6 376.4,118.9 376.6,118.6 377.4,118.9 379.9,118.9 380.1,119.1 382.9,119.4 383.1,119.6 385.4,119.9 386.6,120.4 389.1,120.6 390.6,121.1 392.1,121.1 392.4,121.4 397.1,121.6 397.4,121.9 400.6,121.9 400.9,122.1 410.9,122.1 411.1,121.9 416.1,121.9 416.4,121.6 418.4,121.6 418.6,121.4 421.1,121.4 421.4,121.1 422.9,121.1 423.1,120.9 425.6,120.6 425.9,120.4 428.4,120.1 428.6,119.9 431.4,119.4 436.1,117.6 437.4,116.9 437.9,116.9 441.6,114.6 443.9,112.4 444.4,111.1 444.4,109.6 445.4,108.4 447.1,107.6 449.6,107.4 449.9,107.1 451.9,107.1 452.1,106.9 454.9,106.9 455.1,106.6 457.9,106.6 458.1,106.4 462.6,106.1 462.9,105.9 464.6,105.9 464.9,105.6 467.9,105.4 468.1,105.1 469.1,105.1 470.6,104.6 471.9,104.6 472.1,104.4 472.9,104.4 474.1,103.9 475.4,103.9 476.4,103.4 477.4,103.4 479.4,102.6 486.9,100.9 487.9,100.4 490.4,99.9 495.6,98.1Z" fill="#006aff" fill-rule="evenodd" stroke="#002050" stroke-opacity="0.45" stroke-width="0.45"/>
<path d="M491.4,92.9 487.6,88.4 484.9,84.1 476.1,67.9 472.9,62.6 471.4,60.6 468.9,58.1 466.4,56.9 464.6,56.9 462.9,57.6 460.9,59.4 455.9,66.4 453.6,70.6 453.1,71.1 452.1,73.4 451.6,73.9 443.4,89.9 442.9,90.4 440.9,94.1 438.9,96.9 437.9,99.4 437.1,99.6 433.6,92.4 433.6,91.9 432.4,89.4 432.4,88.9 430.6,85.1 430.6,84.6 428.4,79.6 427.9,77.9 427.1,76.6 427.1,76.1 422.4,66.4 420.1,62.9 417.6,60.1 415.1,58.6 412.6,58.4 409.4,59.9 405.4,64.1 400.1,72.6 390.4,91.9 389.9,92.4 389.1,94.1 386.1,99.1 382.1,104.6 378.6,108.1 376.9,109.4 373.6,110.6 371.1,110.6 367.9,109.4 363.9,106.4 353.9,96.4 351.6,94.6 349.6,93.4 347.1,92.4 346.4,92.4 346.1,92.1 342.9,92.1 340.6,92.9 338.4,94.1 332.9,99.4 323.1,112.6 322.6,114.1 323.9,115.6 326.1,116.6 326.9,116.6 328.9,117.4 330.1,117.4 330.4,117.6 331.9,117.6 332.1,117.9 333.6,117.9 333.9,118.1 337.1,118.1 337.4,118.4 349.6,118.4 349.9,118.1 352.4,118.1 352.6,117.9 356.4,117.6 356.6,117.4 357.9,117.4 359.1,116.9 360.1,116.9 360.4,116.6 361.4,116.6 361.6,116.4 364.4,115.9 370.6,113.6 373.6,113.1 373.9,112.9 378.1,113.1 378.4,113.4 381.6,113.9 381.9,114.1 382.6,114.1 386.9,115.4 387.9,115.4 389.1,115.9 390.4,115.9 390.6,116.1 393.4,116.4 393.6,116.6 395.1,116.6 395.4,116.9 399.9,117.1 400.1,117.4 413.6,117.4 413.9,117.1 417.1,117.1 417.4,116.9 421.9,116.6 423.4,116.1 427.4,115.6 428.4,115.1 431.9,114.4 433.4,113.6 434.6,113.4 435.1,112.9 435.6,112.9 438.9,111.1 440.6,109.6 441.4,108.4 441.4,106.6 439.6,103.9 439.6,103.1 440.4,102.4 441.9,102.4 442.1,102.1 455.6,101.9 455.9,101.6 456.1,101.9 456.4,101.6 461.6,101.4 461.9,101.1 466.9,100.6 468.4,100.1 469.9,100.1 471.1,99.6 474.1,99.1 475.1,98.6 476.1,98.6 477.1,98.1 478.1,98.1 479.9,97.4 480.6,97.4 486.1,95.6 486.9,95.1 487.6,95.1 491.1,93.6Z" fill="#009cff" fill-rule="evenodd" stroke="#002050" stroke-opacity="0.45" stroke-width="0.45"/>
<path d="M325.6,110.1 326.4,111.1 327.6,111.9 328.4,111.9 330.1,112.6 331.1,112.6 332.4,113.1 333.9,113.1 334.1,113.4 335.6,113.4 335.9,113.6 339.9,113.6 340.1,113.9 346.1,113.9 346.4,113.6 350.6,113.6 350.9,113.4 354.6,113.1 354.9,112.9 357.4,112.6 357.6,112.4 360.4,111.9 361.4,111.4 363.6,110.9 365.6,109.9 366.4,109.1 366.4,108.4 363.9,106.4 353.9,96.4 351.6,94.6 349.6,93.4 347.1,92.4 346.4,92.4 346.1,92.1 342.9,92.1 340.6,92.9 338.4,94.1 332.9,99.4 326.9,107.4 325.6,109.4ZM416.6,59.4 414.1,58.4 412.6,58.4 411.1,58.9 409.4,59.9 405.4,64.1 400.1,72.6 392.9,87.1 392.4,87.6 388.1,95.9 384.6,101.4 382.1,104.6 380.4,106.4 380.1,107.1 380.9,108.1 382.9,109.1 383.6,109.1 384.4,109.6 385.9,109.9 387.6,110.6 389.6,110.9 391.9,111.6 394.6,111.9 394.9,112.1 398.4,112.4 398.6,112.6 402.1,112.6 402.4,112.9 412.4,112.9 412.6,112.6 419.1,112.4 419.4,112.1 420.9,112.1 421.1,111.9 422.9,111.9 423.1,111.6 426.9,111.1 427.1,110.9 429.9,110.4 430.6,109.9 431.4,109.9 435.4,108.1 437.4,106.9 438.9,105.4 439.1,104.9 439.1,103.4 438.1,101.9 433.6,92.4 433.6,91.9 432.4,89.4 431.4,86.4 430.6,85.1 429.1,80.9 428.4,79.6 428.4,79.1 426.1,74.4 426.1,73.9 424.6,71.1 424.6,70.6 422.4,66.4 419.1,61.6ZM488.1,88.9 486.1,86.1 483.1,81.1 477.4,70.1 472.9,62.6 471.4,60.6 468.9,58.1 466.4,56.9 464.6,56.9 462.9,57.6 460.9,59.4 455.9,66.4 453.6,70.6 453.1,71.1 452.1,73.4 451.6,73.9 444.6,87.6 441.9,92.1 441.6,94.6 441.9,95.1 443.1,96.1 444.9,96.6 446.1,96.6 446.4,96.9 454.6,97.1 454.9,96.9 461.4,96.6 461.6,96.4 465.4,96.1 466.9,95.6 468.1,95.6 472.6,94.4 473.6,94.4 474.6,93.9 475.6,93.9 476.4,93.4 478.9,92.9 479.6,92.4 480.4,92.4 482.6,91.4 483.9,91.1 484.6,90.6 485.9,90.4 487.9,89.4Z" fill="#00cbff" fill-rule="evenodd" stroke="#002050" stroke-opacity="0.45" stroke-width="0.45"/>
<path d="M328.4,105.9 329.1,106.9 330.6,107.6 334.1,108.6 338.1,108.9 338.4,109.1 348.6,109.1 348.9,108.9 353.4,108.6 354.6,108.1 355.6,108.1 355.9,107.9 356.9,107.9 357.9,107.4 358.6,107.4 361.1,106.4 361.9,105.9 362.4,105.1 353.9,96.4 351.6,94.6 349.6,93.4 347.1,92.4 346.4,92.4 346.1,92.1 342.9,92.1 340.6,92.9 337.4,94.9 332.9,99.4 329.4,103.9ZM416.6,59.4 414.1,58.4 412.6,58.4 411.1,58.9 409.4,59.9 405.4,64.1 400.1,72.6 389.1,94.1 386.1,99.1 383.9,102.1 383.6,103.1 384.1,103.9 386.9,105.4 389.1,106.1 389.9,106.1 391.9,106.9 395.4,107.4 395.6,107.6 399.4,107.9 399.6,108.1 402.1,108.1 402.4,108.4 402.6,108.1 403.1,108.4 413.4,108.4 413.6,108.1 417.1,108.1 417.4,107.9 419.4,107.9 419.6,107.6 422.9,107.4 423.1,107.1 424.1,107.1 424.4,106.9 426.9,106.6 427.9,106.1 428.6,106.1 433.4,104.4 435.4,103.1 437.1,101.4 437.1,99.6 433.6,92.4 433.6,91.9 432.4,89.4 431.4,86.4 430.6,85.1 429.1,80.9 428.4,79.6 428.4,79.1 426.1,74.4 426.1,73.9 424.6,71.1 424.6,70.6 422.4,66.4 419.1,61.6ZM468.9,58.1 466.4,56.9 463.9,57.1 462.1,58.1 458.9,61.9 454.4,68.9 444.4,87.9 444.1,89.4 444.9,90.6 447.1,91.6 449.9,91.9 450.1,92.1 459.6,92.1 459.9,91.9 461.6,91.9 461.9,91.6 463.9,91.6 465.4,91.1 468.1,90.9 468.4,90.6 474.1,89.4 475.1,88.9 475.9,88.9 483.4,86.1 485.4,84.9 473.9,64.1 471.4,60.6Z" fill="#00f8ff" fill-rule="evenodd" stroke="#002050" stroke-opacity="0.45" stroke-width="0.45"/>
<path d="M331.4,101.6 332.1,102.9 334.9,103.9 336.4,103.9 336.6,104.1 338.1,104.1 338.4,104.4 341.4,104.4 341.6,104.6 345.6,104.6 345.9,104.4 349.4,104.4 349.6,104.1 352.9,103.9 353.1,103.6 356.6,102.9 358.1,102.1 358.6,101.4 353.9,96.4 349.6,93.4 346.1,92.1 342.9,92.1 340.6,92.9 337.4,94.9 332.9,99.4ZM416.6,59.4 414.1,58.4 412.6,58.4 411.1,58.9 409.4,59.9 405.4,64.1 400.1,72.6 390.4,91.9 389.9,92.4 389.1,94.1 386.4,98.6 386.6,99.4 387.6,100.4 391.9,102.1 393.9,102.4 396.4,103.1 397.4,103.1 397.6,103.4 403.1,103.6 403.4,103.9 407.6,103.9 407.9,104.1 409.1,104.1 409.4,103.9 415.4,103.9 415.6,103.6 417.9,103.6 418.1,103.4 421.9,103.1 422.1,102.9 424.6,102.6 427.6,101.6 428.4,101.6 432.6,99.9 433.9,99.1 435.4,97.6 435.4,95.9 433.6,92.4 433.6,91.9 432.4,89.4 431.4,86.4 430.6,85.1 429.1,80.9 428.4,79.6 428.4,79.1 426.1,74.4 426.1,73.9 424.6,71.1 424.6,70.6 422.4,66.4 419.1,61.6ZM482.9,80.4 481.9,78.9 480.9,76.6 480.4,76.1 476.1,67.9 471.4,60.6 468.1,57.6 466.4,56.9 464.6,56.9 462.9,57.6 460.9,59.4 455.9,66.4 453.6,70.6 453.1,71.1 452.1,73.4 451.6,73.9 449.9,77.6 449.4,78.1 446.9,83.1 446.6,84.9 447.6,86.1 450.6,87.1 452.1,87.1 452.4,87.4 459.1,87.4 459.4,87.1 461.9,87.1 462.1,86.9 463.9,86.9 464.1,86.6 468.1,86.1 468.4,85.9 471.1,85.4 472.1,84.9 473.9,84.6 474.6,84.1 475.4,84.1 476.9,83.4 477.6,83.4 478.9,82.6 482.4,81.4 482.9,80.9Z" fill="#00ffc4" fill-rule="evenodd" stroke="#002050" stroke-opacity="0.45" stroke-width="0.45"/>
<path d="M334.9,97.4 334.9,98.1 335.9,98.9 337.6,99.4 338.9,99.4 339.1,99.6 340.9,99.6 341.1,99.9 346.4,99.9 346.6,99.6 350.6,99.4 350.9,99.1 351.9,99.1 353.6,98.6 354.6,97.9 354.6,97.1 351.6,94.6 348.6,92.9 346.1,92.1 342.9,92.1 340.6,92.9 337.4,94.9ZM416.6,59.4 414.1,58.4 412.6,58.4 411.1,58.9 409.4,59.9 405.4,64.1 400.1,72.6 392.9,87.1 392.4,87.6 390.4,91.9 388.9,94.4 388.9,95.1 389.9,96.4 393.6,97.9 395.6,98.1 398.1,98.9 402.1,99.1 402.4,99.4 405.9,99.4 406.1,99.6 412.1,99.6 412.4,99.4 418.9,99.1 419.1,98.9 420.6,98.9 420.9,98.6 422.1,98.6 422.4,98.4 423.6,98.4 425.9,97.6 426.9,97.6 431.6,95.6 433.6,93.9 433.9,93.4 433.6,91.9 432.4,89.4 432.4,88.9 430.6,85.1 430.6,84.6 428.4,79.6 427.9,77.9 427.1,76.6 427.1,76.1 424.6,71.1 424.6,70.6 422.4,66.4 419.1,61.6ZM480.6,76.4 476.1,67.9 471.4,60.6 468.1,57.6 466.4,56.9 464.6,56.9 462.9,57.6 460.9,59.4 455.9,66.4 453.6,70.6 453.1,71.1 452.1,73.4 451.6,73.9 449.9,77.6 449.4,78.1 449.1,80.4 449.9,81.4 450.9,81.9 451.6,81.9 452.9,82.4 454.1,82.4 454.4,82.6 459.4,82.6 459.6,82.4 464.1,82.1 464.4,81.9 470.1,80.9 473.4,79.6 474.1,79.6 474.9,79.1 476.4,78.9 476.9,78.4 478.1,78.1 479.9,77.1 480.4,77.1Z" fill="#00ff82" fill-rule="evenodd" stroke="#002050" stroke-opacity="0.45" stroke-width="0.45"/>
<path d="M339.6,93.6 340.1,94.4 342.4,94.6 342.6,94.9 345.4,94.9 345.6,94.6 347.6,94.6 349.4,94.1 349.4,93.4 349.1,93.1 346.1,92.1 342.9,92.1 340.6,92.9ZM417.6,60.1 415.1,58.6 412.6,58.4 409.4,59.9 405.4,64.1 400.1,72.6 392.9,87.1 392.4,87.6 391.1,90.1 391.1,91.4 392.1,92.4 396.1,93.9 397.1,93.9 398.4,94.4 399.9,94.4 400.1,94.6 401.6,94.6 401.9,94.9 404.6,94.9 404.9,95.1 414.1,95.1 414.4,94.9 417.6,94.9 417.9,94.6 421.4,94.4 422.6,93.9 423.9,93.9 424.1,93.6 425.9,93.4 429.4,91.9 429.9,91.9 431.9,90.4 432.4,88.9 430.6,85.1 430.6,84.6 428.4,79.6 427.9,77.9 427.1,76.6 427.1,76.1 424.6,71.1 424.6,70.6 421.6,65.1 420.1,62.9ZM478.4,72.1 473.9,64.1 471.4,60.6 468.1,57.6 466.4,56.9 464.6,56.9 462.1,58.1 458.9,61.9 453.1,71.1 452.1,73.4 451.6,73.9 451.4,75.6 452.6,76.9 453.9,77.4 455.1,77.4 455.4,77.6 461.9,77.6 462.1,77.4 463.9,77.4 464.1,77.1 466.4,76.9 467.6,76.4 468.9,76.4 474.4,74.6 477.9,73.1 478.4,72.6Z" fill="#00ff46" fill-rule="evenodd" stroke="#002050" stroke-opacity="0.45" stroke-width="0.45"/>
<path d="M430.6,84.6 428.4,79.6 427.9,77.9 427.1,76.6 427.1,76.1 424.6,71.1 424.6,70.6 422.4,66.4 419.1,61.6 416.6,59.4 415.1,58.6 412.6,58.4 409.4,59.9 405.4,64.1 401.4,70.4 398.6,75.9 398.1,76.4 393.1,86.4 393.1,87.1 393.9,88.1 395.9,89.1 396.6,89.1 397.6,89.6 398.9,89.6 399.9,90.1 401.9,90.1 403.6,90.6 407.6,90.6 407.9,90.9 408.6,90.6 408.9,90.9 410.9,90.9 411.1,90.6 411.4,90.9 412.4,90.9 412.6,90.6 418.6,90.4 418.9,90.1 421.6,89.9 422.9,89.4 424.1,89.4 425.1,88.9 425.9,88.9 426.6,88.4 427.9,88.1 429.9,86.9 430.6,85.9ZM476.1,67.9 472.9,62.6 471.4,60.6 468.9,58.1 466.4,56.9 464.6,56.9 462.1,58.1 459.6,60.9 454.4,68.9 453.9,70.1 453.9,70.9 454.1,71.4 455.1,72.1 456.9,72.6 462.6,72.6 462.9,72.4 464.6,72.4 464.9,72.1 469.1,71.4 473.6,69.9 476.1,68.6Z" fill="#00ff0a" fill-rule="evenodd" stroke="#002050" stroke-opacity="0.45" stroke-width="0.45"/>
<path d="M429.1,80.9 428.4,79.6 428.4,79.1 426.1,74.4 426.1,73.9 424.6,71.1 424.6,70.6 422.4,66.4 419.1,61.6 416.6,59.4 415.1,58.6 412.6,58.4 409.4,59.9 405.4,64.1 400.1,72.6 395.1,82.4 395.1,83.1 395.6,83.9 396.9,84.6 399.4,85.4 401.4,85.6 401.6,85.9 406.1,86.1 406.4,86.4 414.9,86.4 415.1,86.1 417.6,86.1 419.1,85.6 422.4,85.4 423.1,84.9 424.9,84.6 425.6,84.1 426.9,83.9 428.9,82.4ZM473.6,63.9 471.4,60.6 468.9,58.1 466.4,56.9 464.6,56.9 462.1,58.1 459.6,60.9 456.9,64.9 456.9,66.4 457.4,66.9 458.6,67.4 460.6,67.4 460.9,67.6 464.4,67.4 464.6,67.1 468.1,66.6 473.6,64.6Z" fill="#00ff00" fill-rule="evenodd" stroke="#002050" stroke-opacity="0.45" stroke-width="0.45"/>
<path d="M427.6,77.4 423.6,68.6 420.1,62.9 419.1,61.6 416.6,59.4 415.1,58.6 412.6,58.4 409.4,59.9 405.4,64.1 400.1,72.6 397.1,78.4 397.1,79.1 397.4,79.6 399.1,80.6 399.9,80.6 402.1,81.4 403.1,81.4 403.4,81.6 409.6,81.9 409.9,82.1 411.4,82.1 411.6,81.9 415.9,81.9 416.1,81.6 419.9,81.4 420.1,81.1 422.1,80.9 423.1,80.4 425.4,79.9 427.4,78.4ZM460.4,60.9 460.6,61.4 461.4,61.9 465.4,61.9 465.6,61.6 466.9,61.6 470.4,60.6 470.6,59.9 468.1,57.6 466.4,56.9 464.6,56.9 462.1,58.1 460.4,60.1Z" fill="#00ff00" fill-rule="evenodd" stroke="#002050" stroke-opacity="0.45" stroke-width="0.45"/>
<path d="M425.9,73.4 422.4,66.4 419.1,61.6 416.6,59.4 415.1,58.6 412.6,58.4 409.4,59.9 406.4,62.9 402.9,67.9 400.6,72.1 400.1,72.6 399.1,74.9 399.9,75.9 403.6,77.1 407.9,77.4 408.1,77.6 414.9,77.6 415.1,77.4 416.6,77.4 416.9,77.1 420.4,76.9 421.4,76.4 422.1,76.4 422.9,75.9 423.6,75.9 425.6,74.6Z" fill="#0fff01" fill-rule="evenodd" stroke="#002050" stroke-opacity="0.45" stroke-width="0.45"/>
<path d="M424.1,69.6 420.1,62.9 417.6,60.1 415.1,58.6 412.6,58.4 409.4,59.9 406.4,62.9 402.9,67.9 401.4,70.9 401.9,71.6 405.4,72.9 407.9,72.9 408.1,73.1 415.4,73.1 417.1,72.6 420.1,72.4 420.9,71.9 422.4,71.6 423.9,70.6Z" fill="#69ff07" fill-rule="evenodd" stroke="#002050" stroke-opacity="0.45" stroke-width="0.45"/>
<path d="M421.9,65.6 420.1,62.9 417.6,60.1 415.1,58.6 412.6,58.4 409.4,59.9 405.4,64.1 403.9,66.9 404.4,67.6 406.9,68.4 408.4,68.4 408.6,68.6 414.9,68.6 415.1,68.4 416.6,68.4 416.9,68.1 418.6,68.1 420.9,67.4 421.9,66.6Z" fill="#bcff12" fill-rule="evenodd" stroke="#002050" stroke-opacity="0.45" stroke-width="0.45"/>
<path d="M406.9,63.1 408.9,63.9 413.1,64.1 413.4,63.9 417.1,63.6 418.6,63.1 419.4,62.1 419.1,61.6 416.6,59.4 415.1,58.6 412.6,58.4 409.4,59.9 406.9,62.4Z" fill="#eeea0f" fill-rule="evenodd" stroke="#002050" stroke-opacity="0.45" stroke-width="0.45"/>
<g clip-path="url(#clipa)"><g filter="url(#bla)"><path d="M342.9,92.4 341.9,92.4 338.4,94.1 332.9,99.4 323.1,112.6 322.6,114.1 323.9,115.6 326.9,116.6 328.9,111.4 331.6,106.4 337.6,98.4 342.9,93.4ZM411.9,58.9 409.4,59.9 406.4,62.9 403.4,67.1 393.4,87.1 384.6,101.4 378.6,108.1 374.6,110.6 376.9,113.1 381.9,114.1 382.9,113.1 391.1,92.9 397.1,79.9 404.1,68.4 411.9,59.4ZM464.6,57.1 462.9,57.6 460.9,59.4 454.4,68.9 444.6,87.6 438.1,98.4 437.9,99.4 439.6,101.4 442.1,100.6 443.6,99.4 445.1,97.1 453.4,78.9 461.4,62.9 464.6,57.9Z" fill="#fff" fill-opacity="0.15" fill-rule="evenodd"/>
<path d="M325.6,110.9 322.9,114.1 323.6,115.4ZM384.1,103.4 376.4,109.9 376.1,110.9 378.6,111.4 380.1,110.6 382.4,107.6ZM341.1,93.4 338.1,94.6 333.9,98.9 331.1,103.1ZM448.4,83.4 440.6,95.4 438.4,98.1 438.1,99.6 438.9,100.6 441.1,99.9 443.1,97.4ZM463.6,57.9 461.4,59.1 457.6,64.4 452.1,74.9 449.9,80.4Z" fill="#fff" fill-opacity="0.15" fill-rule="evenodd"/>
<path d="M333.4,120.6 333.9,122.9 342.6,123.4 349.6,123.1 360.1,121.9 372.6,118.9 376.1,118.9 376.1,118.1 373.9,112.6 372.1,110.6 369.4,110.1 366.4,108.4 352.6,95.4 348.6,92.9 345.9,92.4 340.4,99.9 337.1,105.9 334.6,112.4 333.6,116.6ZM496.6,97.6 491.6,93.4 487.6,88.4 483.1,81.1 473.9,64.1 471.4,60.6 468.9,58.1 466.9,57.1 465.1,59.1 461.6,65.9 450.6,93.1 447.6,99.4 445.4,101.9 444.4,102.4 439.6,102.4 438.1,100.9 437.4,99.1 437.1,99.4 435.6,96.9 427.1,76.1 422.4,66.4 420.1,62.9 417.6,60.1 415.1,58.6 413.9,58.6 408.4,66.6 404.6,73.9 398.4,90.1 394.9,104.9 394.6,113.6 395.1,117.4 396.4,121.6 397.4,121.9 416.1,121.9 428.4,120.1 433.6,118.6 440.1,115.6 443.9,112.4 444.6,109.1 447.1,107.6 462.9,106.1 471.9,104.6 486.9,100.9Z" fill="#001" fill-opacity="0.06" fill-rule="evenodd"/>
<path d="M341.4,103.4 339.1,111.1 338.6,115.1 338.9,118.9 340.9,123.1 344.1,123.4 355.4,122.6 362.6,121.4 372.6,118.9 374.4,118.9 374.1,116.4 373.1,113.4 371.4,110.9 367.9,109.4 365.4,107.6 351.6,94.6 348.4,92.9 347.1,92.9ZM496.6,97.6 491.6,93.4 487.6,88.4 483.1,81.1 473.9,64.1 471.4,60.6 468.9,58.1 467.4,57.6 465.1,60.6 462.1,67.1 452.4,95.1 449.9,101.1 447.6,103.6 446.4,104.1 444.1,104.1 440.4,103.1 438.1,101.1 435.6,96.9 427.1,76.1 422.4,66.4 419.1,61.6 416.6,59.4 414.9,58.9 414.1,59.4 409.1,68.9 403.6,84.9 401.6,93.1 400.1,102.4 400.1,115.4 401.1,119.1 402.9,122.1 416.1,121.9 428.4,120.1 433.6,118.6 440.1,115.6 443.9,112.4 444.6,109.1 447.1,107.6 462.9,106.1 471.9,104.6 486.9,100.9Z" fill="#001" fill-opacity="0.06" fill-rule="evenodd"/>
<path d="M348.4,93.6 345.6,100.6 344.1,107.9 344.4,115.4 345.1,117.9 347.6,121.9 349.1,123.1 353.4,122.9 360.1,121.9 372.4,119.1 372.4,115.6 370.9,111.4 363.9,106.4 352.6,95.4 349.4,93.6ZM416.1,59.4 414.9,59.9 413.6,62.6 409.9,73.9 407.1,86.1 405.4,98.6 405.1,108.9 405.9,114.1 407.9,118.9 411.1,122.1 422.9,121.1 433.6,118.6 437.9,116.9 441.6,114.6 443.9,112.4 444.6,109.1 446.4,107.9 447.9,107.6 440.4,103.6 437.9,101.1 433.6,92.4 427.9,77.9 423.6,68.6 419.1,61.6ZM468.6,58.4 467.9,58.4 467.1,59.1 463.6,66.6 457.9,85.4 455.6,95.4 454.9,101.6 455.1,104.6 456.1,106.6 462.9,106.1 475.4,103.9 496.4,97.9 491.6,93.4 487.6,88.4 483.1,81.1 473.9,64.1 471.4,60.6Z" fill="#001" fill-opacity="0.05" fill-rule="evenodd"/>
<polygon points="282,132.8 482.6,146.6 546.3,109.6 345.7,95.8" fill="url(#dga)"/></g></g></g>
<path d="M282,132.8L482.6,146.6L546.3,109.6" stroke="#101040" stroke-width="0.6" fill="none" stroke-opacity="0.8"/>
<path d="M282,132.8v1.8M289.7,133.3v1.8M297.4,133.9v1.8M305.1,134.4v1.8M312.9,134.9v1.8M320.6,135.5v1.8M328.3,136v1.8M336,136.5v1.8M343.7,137v1.8M351.4,137.6v1.8M359.2,138.1v1.8M366.9,138.6v1.8M374.6,139.2v1.8M382.3,139.7v1.8M390,140.2v1.8M397.7,140.8v1.8M405.4,141.3v1.8M413.2,141.8v1.8M420.9,142.4v1.8M428.6,142.9v1.8M436.3,143.4v1.8M444,143.9v1.8M451.7,144.5v1.8M459.5,145v1.8M467.2,145.5v1.8M474.9,146.1v1.8M482.6,146.6v1.8M486.1,144.5l1.3,1.2M489.7,142.5l1.3,1.2M493.2,140.4l1.3,1.2M496.8,138.4l1.3,1.2M500.3,136.3l1.3,1.2M503.8,134.3l1.3,1.2M507.4,132.2l1.3,1.2M510.9,130.2l1.3,1.2M514.5,128.1l1.3,1.2M518,126l1.3,1.2M521.5,124l1.3,1.2M525.1,121.9l1.3,1.2M528.6,119.9l1.3,1.2M532.1,117.8l1.3,1.2M535.7,115.8l1.3,1.2M539.2,113.7l1.3,1.2M542.8,111.7l1.3,1.2M546.3,109.6l1.3,1.2" stroke="#222" stroke-width="0.6" fill="none"/>
<g font-size="8.7" fill="#222" stroke="#222" stroke-width="0.12" text-anchor="end">
<text x="278.3" y="128.1">0.05</text>
<text x="278.3" y="113.4">0.10</text>
<text x="278.3" y="98.8">0.15</text>
<text x="278.3" y="84.1">0.20</text>
<text x="278.3" y="69.5">0.25</text>
<text x="278.3" y="54.9">0.30</text>
</g>
<path d="M279.4,125h3.5M281.1,117.7h1.8M279.4,110.3h3.5M281.1,103h1.8M279.4,95.7h3.5M281.1,88.4h1.8M279.4,81h3.5M281.1,73.8h1.8M279.4,66.4h3.5M281.1,59.1h1.8M279.4,51.8h3.5" stroke="#222" stroke-width="0.9" fill="none"/>
<text transform="translate(250.5,93.3) rotate(-90)" font-size="8.3" font-weight="bold" fill="#222" text-anchor="middle">MSDI</text>
<text transform="translate(373,151.6) scale(0.94,1)" font-size="8.9" fill="#2a3040" stroke="#2a3040" stroke-width="0.3" text-anchor="middle">[1-14]</text>
<text transform="translate(519.2,141.9) rotate(-29.5)" font-size="8.9" fill="#2a3040" stroke="#2a3040" stroke-width="0.3" text-anchor="middle">[A-J]</text>
<g font-size="8.8" fill="#263048" stroke="#263048" stroke-width="0.2" text-anchor="middle">
<text x="352" y="85.2">0.139</text>
<text x="426.2" y="56.2">0.242</text>
<text x="478.2" y="54.2">0.185</text>
</g>
<g><defs><linearGradient id="dgb" gradientUnits="userSpaceOnUse" x1="492.6" y1="333.3" x2="372.6" y2="273.3"><stop offset="0" stop-color="#000020" stop-opacity="0.13"/><stop offset="1" stop-color="#000020" stop-opacity="0"/></linearGradient></defs><defs><clipPath id="clipb"><path d="M546.1,294.9 542.4,294.1 541.4,293.6 540.6,293.6 535.4,291.9 534.6,291.9 532.9,291.1 532.1,291.1 531.1,290.6 529.4,290.4 528.4,289.9 527.6,289.9 525.4,289.1 524.4,289.1 523.1,288.6 522.1,288.6 520.9,288.1 516.1,287.4 514.9,286.9 513.9,286.9 513.6,286.6 508.9,285.6 504.6,284.1 500.4,281.9 497.4,279.6 493.4,275.6 491.4,273.1 487.6,267.6 478.6,252.1 475.4,247.6 472.9,245.1 471.4,244.1 470.1,243.6 468.9,243.6 468.4,243.4 466.6,243.9 464.6,245.1 460.4,249.4 455.9,255.1 451.4,262.1 441.9,279.4 439.6,282.9 438.9,283.6 436.4,278.9 436.4,278.4 429.1,263.1 424.9,256.1 422.6,253.4 420.1,251.4 417.9,250.4 415.4,250.4 412.9,251.4 410.9,252.9 409.1,254.6 406.4,258.1 402.9,263.6 394.6,278.9 394.1,279.4 390.6,285.6 387.6,285.6 387.4,285.4 384.1,285.4 383.9,285.1 380.4,285.1 380.1,284.9 376.6,284.9 376.4,284.6 373.1,284.6 372.9,284.4 369.4,284.4 369.1,284.1 365.9,284.1 365.6,283.9 362.1,283.9 361.9,283.6 358.6,283.6 358.4,283.4 352.6,283.1 351.1,281.1 349.4,279.4 347.6,278.1 345.1,277.4 343.4,277.6 340.9,279.1 338.9,281.1 337.1,283.4 333.9,288.9 332.9,290.1 327.9,292.9 326.1,294.1 324.9,294.6 323.1,295.9 321.9,296.4 321.4,296.9 320.1,297.4 318.4,298.6 310.1,303.1 309.6,303.6 307.9,304.4 307.4,304.9 300.9,308.4 296.6,311.1 295.4,311.6 288.6,315.9 282.4,319.4 287.4,319.6 287.6,319.9 290.9,319.9 291.1,320.1 294.6,320.1 294.9,320.4 298.1,320.4 298.4,320.6 301.9,320.6 302.1,320.9 305.4,320.9 305.6,321.1 309.1,321.1 309.4,321.4 312.9,321.4 313.1,321.6 316.4,321.6 316.6,321.9 323.6,322.1 323.9,322.4 330.9,322.6 331.1,322.9 334.6,322.9 334.9,323.1 338.1,323.1 338.4,323.4 341.9,323.4 342.1,323.6 345.4,323.6 345.6,323.9 349.1,323.9 349.4,324.1 352.6,324.1 352.9,324.4 360.1,324.6 360.4,324.9 363.6,324.9 363.9,325.1 367.4,325.1 367.6,325.4 370.9,325.4 371.1,325.6 374.6,325.6 374.9,325.9 378.1,325.9 378.4,326.1 381.9,326.1 382.1,326.4 385.4,326.4 385.6,326.6 389.1,326.6 389.4,326.9 392.6,326.9 392.9,327.1 396.4,327.1 396.6,327.4 399.9,327.4 400.1,327.6 407.4,327.9 407.6,328.1 410.9,328.1 411.1,328.4 414.6,328.4 414.9,328.6 418.1,328.6 418.4,328.9 421.9,328.9 422.1,329.1 425.4,329.1 425.6,329.4 429.1,329.4 429.4,329.6 432.6,329.6 432.9,329.9 436.4,329.9 436.6,330.1 439.9,330.1 440.1,330.4 443.6,330.4 443.9,330.6 447.1,330.6 447.4,330.9 450.9,330.9 451.1,331.1 454.4,331.1 454.6,331.4 458.1,331.4 458.4,331.6 461.9,331.6 462.1,331.9 465.4,331.9 465.6,332.1 469.1,332.1 469.4,332.4 472.6,332.4 472.9,332.6 476.4,332.6 476.6,332.9 479.9,332.9 480.1,333.1 482.9,333.1 484.6,331.9 490.6,328.6 498.4,323.9 503.1,321.4 510.9,316.6 513.9,315.1 518.6,312.1 521.6,310.6 529.4,305.9 530.6,305.4 537.1,301.4 546.1,296.4Z" clip-rule="evenodd"/></clipPath><filter id="blb" x="-5%" y="-5%" width="110%" height="110%"><feGaussianBlur stdDeviation="1.6"/></filter></defs><path d="M546.1,294.9 542.4,294.1 541.4,293.6 540.6,293.6 535.4,291.9 534.6,291.9 532.9,291.1 532.1,291.1 531.1,290.6 529.4,290.4 528.4,289.9 527.6,289.9 525.4,289.1 524.4,289.1 523.1,288.6 522.1,288.6 520.9,288.1 516.1,287.4 514.9,286.9 513.9,286.9 513.6,286.6 508.9,285.6 504.6,284.1 500.4,281.9 497.4,279.6 493.4,275.6 491.4,273.1 487.6,267.6 478.6,252.1 475.4,247.6 472.9,245.1 471.4,244.1 470.1,243.6 468.9,243.6 468.4,243.4 466.6,243.9 464.6,245.1 460.4,249.4 455.9,255.1 451.4,262.1 441.9,279.4 439.6,282.9 438.9,283.6 436.4,278.9 436.4,278.4 429.1,263.1 424.9,256.1 422.6,253.4 420.1,251.4 417.9,250.4 415.4,250.4 412.9,251.4 410.9,252.9 409.1,254.6 406.4,258.1 402.9,263.6 394.6,278.9 394.1,279.4 390.6,285.6 387.6,285.6 387.4,285.4 384.1,285.4 383.9,285.1 380.4,285.1 380.1,284.9 376.6,284.9 376.4,284.6 373.1,284.6 372.9,284.4 369.4,284.4 369.1,284.1 365.9,284.1 365.6,283.9 362.1,283.9 361.9,283.6 358.6,283.6 358.4,283.4 352.6,283.1 351.1,281.1 349.4,279.4 347.6,278.1 345.1,277.4 343.4,277.6 340.9,279.1 338.9,281.1 337.1,283.4 333.9,288.9 332.9,290.1 327.9,292.9 326.1,294.1 324.9,294.6 323.1,295.9 321.9,296.4 321.4,296.9 320.1,297.4 318.4,298.6 310.1,303.1 309.6,303.6 307.9,304.4 307.4,304.9 300.9,308.4 296.6,311.1 295.4,311.6 288.6,315.9 282.4,319.4 287.4,319.6 287.6,319.9 290.9,319.9 291.1,320.1 294.6,320.1 294.9,320.4 298.1,320.4 298.4,320.6 301.9,320.6 302.1,320.9 305.4,320.9 305.6,321.1 309.1,321.1 309.4,321.4 312.9,321.4 313.1,321.6 316.4,321.6 316.6,321.9 323.6,322.1 323.9,322.4 330.9,322.6 331.1,322.9 334.6,322.9 334.9,323.1 338.1,323.1 338.4,323.4 341.9,323.4 342.1,323.6 345.4,323.6 345.6,323.9 349.1,323.9 349.4,324.1 352.6,324.1 352.9,324.4 360.1,324.6 360.4,324.9 363.6,324.9 363.9,325.1 367.4,325.1 367.6,325.4 370.9,325.4 371.1,325.6 374.6,325.6 374.9,325.9 378.1,325.9 378.4,326.1 381.9,326.1 382.1,326.4 385.4,326.4 385.6,326.6 389.1,326.6 389.4,326.9 392.6,326.9 392.9,327.1 396.4,327.1 396.6,327.4 399.9,327.4 400.1,327.6 407.4,327.9 407.6,328.1 410.9,328.1 411.1,328.4 414.6,328.4 414.9,328.6 418.1,328.6 418.4,328.9 421.9,328.9 422.1,329.1 425.4,329.1 425.6,329.4 429.1,329.4 429.4,329.6 432.6,329.6 432.9,329.9 436.4,329.9 436.6,330.1 439.9,330.1 440.1,330.4 443.6,330.4 443.9,330.6 447.1,330.6 447.4,330.9 450.9,330.9 451.1,331.1 454.4,331.1 454.6,331.4 458.1,331.4 458.4,331.6 461.9,331.6 462.1,331.9 465.4,331.9 465.6,332.1 469.1,332.1 469.4,332.4 472.6,332.4 472.9,332.6 476.4,332.6 476.6,332.9 479.9,332.9 480.1,333.1 482.9,333.1 484.6,331.9 490.6,328.6 498.4,323.9 503.1,321.4 510.9,316.6 513.9,315.1 518.6,312.1 521.6,310.6 529.4,305.9 530.6,305.4 537.1,301.4 546.1,296.4Z" fill="#0000ff" fill-rule="evenodd"/>
<path d="M530.4,290.6 525.4,289.1 524.4,289.1 523.1,288.6 522.1,288.6 520.9,288.1 516.1,287.4 514.9,286.9 513.9,286.9 513.6,286.6 508.9,285.6 504.6,284.1 499.6,281.4 497.4,279.6 493.4,275.6 491.4,273.1 487.6,267.6 478.6,252.1 475.4,247.6 472.9,245.1 471.4,244.1 470.1,243.6 467.4,243.6 465.6,244.4 464.6,245.1 460.4,249.4 455.9,255.1 451.4,262.1 444.9,274.1 444.4,274.6 441.9,279.4 439.4,283.1 438.6,283.1 429.1,263.1 424.9,256.1 422.6,253.4 420.1,251.4 417.9,250.4 415.4,250.4 415.1,250.6 414.4,250.6 412.1,251.9 410.9,252.9 407.9,256.1 402.9,263.6 391.6,284.1 386.6,291.9 382.4,297.1 379.1,300.1 376.9,301.6 374.4,302.6 370.9,302.9 368.4,302.1 365.6,300.4 361.4,295.9 354.4,285.4 351.1,281.1 349.4,279.4 347.6,278.1 346.4,277.6 344.6,277.4 344.4,277.6 343.4,277.6 341.9,278.4 340.9,279.1 337.9,282.4 334.9,286.9 328.9,297.4 324.9,303.1 321.1,306.9 320.9,308.4 322.1,309.9 324.1,310.9 327.6,311.9 330.1,312.1 330.4,312.4 332.4,312.4 332.6,312.6 335.4,312.6 335.6,312.9 345.6,312.9 345.9,312.6 348.9,312.6 349.1,312.4 351.9,312.4 352.1,312.1 353.9,312.1 354.1,311.9 356.1,311.9 356.4,311.6 360.9,311.1 362.1,310.6 363.6,310.6 363.9,310.4 365.4,310.4 365.6,310.1 371.1,310.1 374.1,311.1 374.9,311.1 375.6,311.6 377.1,311.9 378.9,312.6 379.6,312.6 380.6,313.1 382.6,313.4 383.9,313.9 386.4,314.1 386.6,314.4 389.1,314.6 389.4,314.9 393.9,315.1 394.1,315.4 397.6,315.4 397.9,315.6 410.1,315.6 410.4,315.4 413.6,315.4 413.9,315.1 415.9,315.1 416.1,314.9 420.6,314.4 420.9,314.1 421.9,314.1 426.1,312.9 427.1,312.9 427.4,313.6 425.6,317.1 423.4,320.9 420.9,323.9 420.9,324.4 482.6,328.6 484.9,327.4 485.6,326.6 485.4,325.6 484.6,324.6 483.1,323.4 479.4,321.1 472.6,314.1 467.9,307.6 462.4,299.1 462.4,298.4 462.6,298.1 464.9,298.1 465.1,297.9 470.9,297.4 471.1,297.1 473.9,296.9 474.1,296.6 477.6,296.1 478.9,295.6 481.1,295.4 481.4,295.1 485.9,294.4 486.1,294.1 490.6,293.6 490.9,293.4 494.9,293.1 495.1,292.9 502.1,292.6 502.4,292.4 519.6,292.1 519.9,291.9 523.4,291.9 523.6,291.6 527.9,291.4 528.1,291.1 529.4,291.1Z" fill="#0038ff" fill-rule="evenodd" stroke="#002050" stroke-opacity="0.12" stroke-width="0.45"/>
<path d="M324.6,304.1 325.6,305.4 328.4,306.6 329.4,306.6 329.6,306.9 331.9,307.1 332.1,307.4 333.4,307.4 333.6,307.6 336.1,307.6 336.4,307.9 347.4,307.9 347.6,307.6 349.6,307.6 349.9,307.4 355.4,306.9 355.6,306.6 356.6,306.6 356.9,306.4 357.9,306.4 359.1,305.9 362.1,305.4 367.1,303.4 367.6,302.6 367.4,301.6 365.6,300.4 361.4,295.9 354.4,285.4 351.1,281.1 349.4,279.4 347.6,278.1 346.4,277.6 344.6,277.4 344.4,277.6 343.4,277.6 340.9,279.1 338.9,281.1 337.1,283.4 333.4,289.4 332.9,290.6 331.6,292.4 328.9,297.4 326.4,301.1 324.9,302.9ZM506.9,284.9 504.6,284.1 499.6,281.4 497.4,279.6 493.4,275.6 487.6,267.6 484.1,261.4 483.6,260.9 483.1,259.6 481.9,257.9 481.4,256.6 477.6,250.6 475.4,247.6 472.9,245.1 470.9,243.9 470.1,243.6 467.4,243.6 465.6,244.4 464.6,245.1 459.1,250.9 455.9,255.1 452.1,260.9 441.9,279.4 439.4,283.1 438.6,283.1 429.1,263.1 424.9,256.1 422.6,253.4 420.1,251.4 417.9,250.4 415.4,250.4 412.9,251.4 410.9,252.9 409.1,254.6 406.4,258.1 402.9,263.6 394.6,278.9 394.1,279.4 393.6,280.6 393.1,281.1 389.6,287.4 386.6,291.9 382.4,297.1 379.1,300.1 378.1,300.6 376.1,302.4 376.1,303.6 376.4,304.1 378.4,305.9 383.6,308.1 386.4,308.6 387.4,309.1 389.9,309.4 390.1,309.6 393.6,309.9 393.9,310.1 396.4,310.1 396.6,310.4 400.4,310.4 400.6,310.6 408.4,310.6 408.6,310.4 415.1,310.1 415.4,309.9 416.9,309.9 417.1,309.6 418.6,309.6 420.1,309.1 421.4,309.1 421.6,308.9 424.4,308.4 425.4,307.9 426.4,307.9 428.9,306.9 429.9,306.9 430.1,307.6 429.4,308.9 429.4,309.4 425.6,317.1 423.9,319.9 423.9,320.6 479.4,324.4 479.9,323.9 479.9,321.9 479.6,321.4 473.9,315.6 469.6,310.1 465.4,303.9 465.1,303.1 463.1,300.4 462.9,299.6 459.1,293.9 459.6,293.4 462.6,293.4 462.9,293.1 464.9,293.1 465.1,292.9 470.6,292.4 470.9,292.1 473.1,291.9 474.4,291.4 476.6,291.1 477.9,290.6 480.1,290.4 481.1,289.9 482.1,289.9 483.4,289.4 485.6,289.1 486.9,288.6 490.6,288.1 491.9,287.6 493.1,287.6 494.6,287.1 495.9,287.1 496.1,286.9 497.4,286.9 497.6,286.6 498.9,286.6 499.1,286.4 506.4,285.4 506.9,285.1Z" fill="#006aff" fill-rule="evenodd" stroke="#002050" stroke-opacity="0.45" stroke-width="0.45"/>
<path d="M363.1,298.1 362.6,297.1 361.4,295.9 359.4,293.1 354.4,285.4 351.1,281.1 349.4,279.4 347.6,278.1 346.4,277.6 344.6,277.4 344.4,277.6 343.4,277.6 340.9,279.1 338.9,281.1 337.1,283.4 333.4,289.4 332.9,290.6 331.6,292.4 328.9,297.4 327.9,298.6 327.6,300.1 327.9,300.6 328.9,301.4 334.1,302.9 336.6,302.9 336.9,303.1 347.9,303.1 348.1,302.9 353.6,302.4 354.9,301.9 355.9,301.9 356.1,301.6 357.1,301.6 358.1,301.1 358.9,301.1 362.6,299.4 363.1,298.6ZM498.1,280.1 493.4,275.6 490.1,271.4 484.6,262.6 479.9,254.1 476.4,248.9 472.9,245.1 470.9,243.9 470.1,243.6 467.4,243.6 465.6,244.4 464.6,245.1 459.1,250.9 455.9,255.1 452.1,260.9 441.9,279.4 439.1,283.4 438.4,282.9 436.4,278.9 436.4,278.4 429.1,263.1 424.9,256.1 422.6,253.4 420.1,251.4 417.9,250.4 415.4,250.4 412.9,251.4 410.9,252.9 409.1,254.6 406.4,258.1 399.9,268.9 398.9,271.1 398.4,271.6 397.4,273.9 396.9,274.4 395.9,276.6 395.4,277.1 394.6,278.9 394.1,279.4 390.9,285.4 386.6,291.9 384.1,295.1 381.4,298.1 381.1,299.6 381.6,300.6 383.4,302.1 386.1,303.4 387.6,303.6 388.6,304.1 389.4,304.1 390.6,304.6 391.9,304.6 392.1,304.9 393.4,304.9 393.6,305.1 397.4,305.4 397.6,305.6 402.9,305.6 403.1,305.9 403.6,305.6 403.9,305.9 411.4,305.6 411.6,305.4 414.6,305.4 414.9,305.1 416.4,305.1 416.6,304.9 418.6,304.9 419.9,304.4 423.4,303.9 424.1,303.4 425.1,303.4 426.1,302.9 426.9,302.9 429.1,301.9 430.6,301.6 431.4,301.1 432.4,301.1 432.6,301.4 432.4,302.4 430.1,307.1 429.4,309.4 428.1,311.6 428.1,312.1 425.9,316.4 426.1,316.9 435.9,317.4 436.1,317.6 439.6,317.6 439.9,317.9 443.1,317.9 443.4,318.1 446.9,318.1 447.1,318.4 450.4,318.4 450.6,318.6 454.1,318.6 454.4,318.9 457.6,318.9 457.9,319.1 461.4,319.1 461.6,319.4 465.1,319.4 465.4,319.6 468.6,319.6 468.9,319.9 472.4,319.9 472.6,320.1 475.4,320.1 475.9,319.6 475.9,317.9 472.6,314.1 469.6,310.1 465.4,303.9 465.1,303.1 463.1,300.4 460.6,296.1 455.9,289.4 456.4,288.9 462.4,288.6 462.6,288.4 466.9,288.1 467.1,287.9 471.4,287.4 473.6,286.6 474.9,286.6 477.1,285.9 480.1,285.4 481.1,284.9 482.1,284.9 482.4,284.6 483.1,284.6 486.4,283.6 487.4,283.6 489.4,282.9 491.4,282.6 492.4,282.1 496.1,281.4 498.1,280.6Z" fill="#009cff" fill-rule="evenodd" stroke="#002050" stroke-opacity="0.45" stroke-width="0.45"/>
<path d="M360.1,294.1 354.4,285.4 351.1,281.1 349.4,279.4 347.6,278.1 346.4,277.6 344.6,277.4 344.4,277.6 343.4,277.6 341.9,278.4 340.9,279.1 337.9,282.4 331.6,292.4 330.1,295.1 330.1,295.9 330.9,296.9 334.6,298.1 338.6,298.4 338.9,298.6 346.6,298.6 346.9,298.4 348.9,298.4 350.6,297.9 352.1,297.9 352.4,297.6 356.6,296.9 359.6,295.4 360.1,294.6ZM493.6,275.9 491.4,273.1 487.6,267.6 479.9,254.1 475.4,247.6 472.9,245.1 471.4,244.1 470.1,243.6 467.4,243.6 465.6,244.4 464.6,245.1 460.4,249.4 455.9,255.1 453.4,258.9 441.6,279.6 441.6,280.9 441.9,281.4 443.4,282.6 443.4,283.1 440.6,285.9 440.1,285.9 439.6,285.4 436.4,278.9 436.4,278.4 429.1,263.1 424.9,256.1 422.6,253.4 420.1,251.4 417.9,250.4 415.4,250.4 412.9,251.4 410.9,252.9 409.1,254.6 406.4,258.1 399.9,268.9 398.9,271.1 398.4,271.6 397.4,273.9 396.9,274.4 395.9,276.6 395.4,277.1 391.6,284.1 386.6,291.9 385.1,293.6 384.6,294.6 384.6,295.6 385.1,296.6 386.1,297.6 389.4,299.1 390.9,299.4 391.9,299.9 394.4,300.1 395.9,300.6 401.4,300.9 401.6,301.1 409.1,301.1 409.4,300.9 415.4,300.6 415.6,300.4 418.6,300.1 418.9,299.9 420.1,299.9 422.4,299.1 423.4,299.1 424.4,298.6 428.6,297.6 429.4,297.1 430.6,296.9 434.4,295.1 434.9,295.1 435.1,295.4 435.1,296.1 432.4,301.9 432.4,302.4 430.1,307.1 429.4,309.4 427.9,312.4 428.1,313.1 431.6,313.1 431.9,313.4 442.6,313.9 442.9,314.1 449.9,314.4 450.1,314.6 457.1,314.9 457.4,315.1 464.4,315.4 464.6,315.6 467.9,315.6 468.1,315.9 471.6,315.9 472.1,316.1 472.6,315.6 472.6,314.1 467.9,307.6 458.6,293.1 455.1,288.4 451.9,284.9 451.9,284.4 452.1,284.1 459.6,284.1 459.9,283.9 460.1,284.1 460.4,283.9 463.1,283.9 463.4,283.6 467.4,283.4 467.6,283.1 470.1,282.9 471.4,282.4 472.6,282.4 472.9,282.1 481.6,280.1 484.4,279.1 487.1,278.6 488.9,277.9 489.6,277.9 490.4,277.4 492.6,276.9 493.6,276.4Z" fill="#00cbff" fill-rule="evenodd" stroke="#002050" stroke-opacity="0.45" stroke-width="0.45"/>
<path d="M357.4,289.9 352.4,282.6 349.4,279.4 347.1,277.9 344.6,277.4 344.4,277.6 343.4,277.6 341.9,278.4 338.9,281.1 334.9,286.9 332.4,291.6 333.1,292.6 335.9,293.6 339.9,293.9 340.1,294.1 344.9,294.1 345.1,293.9 348.1,293.9 348.4,293.6 351.6,293.4 355.1,292.4 356.6,291.6 357.4,290.9ZM387.6,290.4 387.6,291.9 388.6,293.1 390.1,294.1 395.1,295.6 396.4,295.6 398.1,296.1 400.6,296.1 400.9,296.4 412.6,296.4 412.9,296.1 414.9,296.1 416.6,295.6 418.1,295.6 418.4,295.4 419.4,295.4 420.6,294.9 421.9,294.9 422.1,294.6 424.9,294.1 425.9,293.6 426.6,293.6 429.6,292.4 431.6,291.9 435.4,289.9 435.9,289.9 437.9,288.4 438.6,288.1 438.9,288.6 437.9,290.1 434.1,297.9 434.1,298.4 432.4,301.9 431.1,305.4 430.1,307.1 430.1,307.6 429.6,308.4 429.6,309.1 434.6,309.4 434.9,309.6 438.1,309.6 438.4,309.9 441.9,309.9 442.1,310.1 445.4,310.1 445.6,310.4 449.1,310.4 449.4,310.6 452.6,310.6 452.9,310.9 456.4,310.9 456.6,311.1 460.1,311.1 460.4,311.4 463.6,311.4 463.9,311.6 467.4,311.6 467.6,311.9 469.4,311.9 469.9,311.1 469.6,309.9 465.4,303.9 465.1,303.1 463.1,300.4 462.9,299.6 458.6,293.1 455.1,288.4 451.6,284.6 449.6,283.1 448.1,282.4 445.9,282.1 443.4,283.1 440.1,286.4 439.6,286.1 439.6,285.1 436.4,278.9 436.4,278.4 431.6,268.6 431.6,268.1 426.4,258.4 424.1,255.1 422.4,253.1 420.1,251.4 417.9,250.4 415.4,250.4 412.9,251.4 410.9,252.9 407.9,256.1 402.9,263.6 394.6,278.9 394.1,279.4 390.9,285.4ZM490.4,271.6 487.6,267.6 479.9,254.1 475.4,247.6 472.9,245.1 471.4,244.1 470.1,243.6 467.4,243.6 465.6,244.4 464.6,245.1 460.4,249.4 455.9,255.1 451.4,262.1 444.9,274.1 444.1,275.1 444.1,276.6 445.9,278.1 448.4,278.9 449.4,278.9 449.6,279.1 451.6,279.1 451.9,279.4 462.1,279.4 462.4,279.1 464.4,279.1 466.1,278.6 469.1,278.4 470.4,277.9 471.6,277.9 473.9,277.1 474.9,277.1 475.9,276.6 476.9,276.6 478.6,275.9 480.4,275.6 486.1,273.6 487.6,273.4 488.4,272.9 490.1,272.4Z" fill="#00f8ff" fill-rule="evenodd" stroke="#002050" stroke-opacity="0.45" stroke-width="0.45"/>
<path d="M431.4,304.4 431.4,305.4 433.9,305.4 434.1,305.6 437.6,305.6 437.9,305.9 444.9,306.1 445.1,306.4 448.4,306.4 448.6,306.6 452.1,306.6 452.4,306.9 455.6,306.9 455.9,307.1 459.4,307.1 459.6,307.4 462.9,307.4 463.1,307.6 466.9,307.6 467.1,307.4 466.9,305.9 458.6,293.1 453.9,286.9 450.4,283.6 448.1,282.4 447.4,282.4 447.1,282.1 444.9,282.4 443.4,283.1 439.9,286.9 437.9,290.1 435.4,295.1 435.4,295.6 434.1,297.9 434.1,298.4ZM354.9,286.1 352.4,282.6 349.4,279.4 347.1,277.9 344.6,277.4 344.4,277.6 343.4,277.6 341.9,278.4 338.9,281.1 334.9,286.9 334.9,287.9 335.9,288.6 337.6,289.1 338.9,289.1 339.1,289.4 343.6,289.4 343.9,289.6 344.6,289.4 347.6,289.4 347.9,289.1 349.4,289.1 349.6,288.9 350.6,288.9 353.1,288.1 354.6,287.4ZM420.9,251.9 417.9,250.4 415.4,250.4 415.1,250.6 414.4,250.6 412.9,251.4 410.9,252.9 407.9,256.1 402.9,263.6 394.6,278.9 390.4,285.9 390.1,287.4 391.1,288.9 394.6,290.6 397.9,291.1 398.1,291.4 401.6,291.6 401.9,291.9 410.9,291.9 411.1,291.6 414.1,291.6 414.4,291.4 418.1,291.1 419.4,290.6 422.6,290.1 424.6,289.4 425.6,289.4 427.9,288.4 428.6,288.4 433.4,286.1 433.9,286.1 434.4,285.6 435.6,285.1 437.6,283.4 437.9,282.9 437.9,281.6 436.4,278.9 436.4,278.4 429.1,263.1 424.9,256.1 422.6,253.4ZM487.6,267.4 484.6,262.6 479.9,254.1 475.4,247.6 472.9,245.1 471.4,244.1 470.1,243.6 467.4,243.6 465.6,244.4 464.6,245.1 460.4,249.4 455.9,255.1 452.1,260.9 448.9,266.9 448.4,267.4 446.4,271.1 446.4,272.1 447.1,273.1 448.6,273.9 451.6,274.4 451.9,274.6 454.6,274.6 454.9,274.9 463.4,274.6 463.6,274.4 465.1,274.4 465.4,274.1 469.6,273.6 472.9,272.6 473.9,272.6 474.9,272.1 476.9,271.9 477.6,271.4 480.9,270.6 483.9,269.6 484.6,269.1 485.9,268.9 487.4,268.1Z" fill="#00ffc4" fill-rule="evenodd" stroke="#002050" stroke-opacity="0.45" stroke-width="0.45"/>
<path d="M432.9,300.9 433.4,301.6 436.9,301.6 437.1,301.9 444.1,302.1 444.4,302.4 451.4,302.6 451.6,302.9 458.6,303.1 458.9,303.4 462.4,303.4 462.6,303.6 464.1,303.6 464.6,303.1 464.1,301.6 460.9,296.9 460.6,296.1 455.1,288.4 453.9,286.9 450.4,283.6 448.1,282.4 447.4,282.4 447.1,282.1 444.9,282.4 443.4,283.1 440.6,285.9 437.9,290.1ZM352.1,282.6 351.1,281.1 348.4,278.6 347.1,277.9 344.6,277.4 344.4,277.6 343.4,277.6 340.9,279.1 338.9,281.1 337.4,283.4 337.9,284.1 339.6,284.6 340.6,284.6 340.9,284.9 346.4,284.9 346.6,284.6 347.9,284.6 348.1,284.4 349.1,284.4 350.9,283.9 351.9,283.4ZM420.9,251.9 417.9,250.4 415.4,250.4 415.1,250.6 414.4,250.6 412.9,251.4 410.9,252.9 407.9,256.1 402.9,263.6 402.4,264.9 399.9,268.9 398.9,271.1 398.4,271.6 397.4,273.9 396.9,274.4 395.9,276.6 395.4,277.1 394.6,278.9 392.6,282.1 392.6,283.4 393.9,284.9 397.1,286.4 398.1,286.4 399.6,286.9 401.1,286.9 401.4,287.1 403.9,287.1 404.1,287.4 411.4,287.4 411.6,287.1 413.9,287.1 414.1,286.9 415.9,286.9 416.1,286.6 417.9,286.6 419.4,286.1 420.6,286.1 427.6,284.1 433.4,281.6 435.9,279.6 436.1,279.1 436.1,277.9 429.1,263.1 424.9,256.1 422.6,253.4ZM485.1,263.1 484.6,262.6 484.1,261.4 478.6,252.1 475.4,247.6 472.9,245.1 471.4,244.1 470.1,243.6 467.4,243.6 465.6,244.4 464.6,245.1 460.4,249.4 458.1,252.1 452.1,260.9 449.9,265.1 449.4,265.6 448.6,267.1 448.9,268.1 450.1,269.1 452.6,269.9 454.6,269.9 454.9,270.1 462.4,270.1 462.6,269.9 464.4,269.9 464.6,269.6 467.4,269.4 468.9,268.9 470.1,268.9 471.1,268.4 472.1,268.4 473.1,267.9 474.9,267.6 475.6,267.1 477.4,266.9 481.1,265.6 481.9,265.1 483.9,264.6 485.1,263.9Z" fill="#00ff82" fill-rule="evenodd" stroke="#002050" stroke-opacity="0.45" stroke-width="0.45"/>
<path d="M434.6,296.9 434.6,297.6 436.1,297.6 436.4,297.9 439.9,297.9 440.1,298.1 447.1,298.4 447.4,298.6 450.6,298.6 450.9,298.9 454.4,298.9 454.6,299.1 457.9,299.1 458.1,299.4 461.9,299.4 462.1,299.1 461.9,298.1 458.6,293.1 453.9,286.9 450.4,283.6 448.1,282.4 447.4,282.4 447.1,282.1 444.9,282.4 443.4,283.1 440.6,285.9 437.9,290.1ZM341.1,279.4 341.9,279.9 344.4,280.1 344.6,279.9 347.6,279.6 348.1,279.4 348.4,278.9 347.1,277.9 344.6,277.4 344.4,277.6 343.4,277.6 341.9,278.4ZM434.4,274.1 429.1,263.1 428.6,262.6 426.4,258.4 424.1,255.1 422.4,253.1 420.1,251.4 417.9,250.4 415.4,250.4 412.9,251.4 410.9,252.9 409.1,254.6 406.4,258.1 399.9,268.9 398.9,271.1 398.4,271.6 397.4,273.9 396.9,274.4 395.9,276.6 394.9,278.1 394.9,279.1 396.4,280.9 398.1,281.4 398.9,281.9 400.9,282.1 401.1,282.4 405.4,282.6 405.6,282.9 410.4,282.9 410.6,282.6 416.1,282.4 416.4,282.1 417.6,282.1 419.1,281.6 420.4,281.6 421.4,281.1 422.6,281.1 423.4,280.6 425.9,280.1 426.6,279.6 427.4,279.6 428.1,279.1 429.9,278.6 433.1,276.9 434.4,275.6ZM482.9,259.4 478.6,252.1 475.4,247.6 472.9,245.1 471.4,244.1 470.1,243.6 467.4,243.6 465.6,244.4 464.6,245.1 459.1,250.9 453.4,258.9 453.1,259.6 451.4,262.1 451.1,263.4 451.6,264.1 453.1,264.9 455.4,265.1 455.6,265.4 462.6,265.4 462.9,265.1 464.6,265.1 464.9,264.9 466.4,264.9 466.6,264.6 470.1,264.1 471.1,263.6 473.9,263.1 481.1,260.6 482.6,259.9Z" fill="#00ff46" fill-rule="evenodd" stroke="#002050" stroke-opacity="0.45" stroke-width="0.45"/>
<path d="M436.4,293.1 436.4,293.9 439.1,293.9 439.4,294.1 442.6,294.1 442.9,294.4 446.4,294.4 446.6,294.6 449.9,294.6 450.1,294.9 453.6,294.9 453.9,295.1 459.4,295.4 459.1,293.9 453.9,286.9 450.4,283.6 448.1,282.4 447.4,282.4 447.1,282.1 444.9,282.4 443.4,283.1 440.6,285.9 437.9,290.1ZM432.9,270.9 429.1,263.1 428.6,262.6 426.4,258.4 424.1,255.1 422.4,253.1 420.1,251.4 417.9,250.4 415.4,250.4 412.9,251.4 410.9,252.9 409.1,254.6 406.4,258.1 402.9,263.6 402.4,264.9 399.9,268.9 398.9,271.1 398.4,271.6 397.1,274.1 397.1,275.1 397.9,276.1 399.1,276.9 401.6,277.6 404.1,277.9 404.4,278.1 408.1,278.1 408.4,278.4 409.4,278.4 409.6,278.1 416.4,277.9 417.9,277.4 420.4,277.1 426.6,275.4 431.6,272.9 432.6,271.9ZM480.4,255.1 476.4,248.9 472.9,245.1 470.1,243.6 467.4,243.6 465.6,244.4 464.6,245.1 460.4,249.4 455.9,255.1 454.4,257.4 453.9,258.9 454.4,259.6 456.1,260.4 457.6,260.4 457.9,260.6 464.4,260.4 464.6,260.1 466.1,260.1 466.4,259.9 468.6,259.6 469.9,259.1 470.9,259.1 472.6,258.4 473.4,258.4 479.6,256.1 480.4,255.6Z" fill="#00ff0a" fill-rule="evenodd" stroke="#002050" stroke-opacity="0.45" stroke-width="0.45"/>
<path d="M438.4,289.4 438.6,290.1 442.1,290.1 442.4,290.4 445.6,290.4 445.9,290.6 456.6,291.1 456.6,290.4 455.1,288.4 451.6,284.6 449.6,283.1 447.1,282.1 444.9,282.4 443.4,283.1 440.6,285.9ZM431.1,267.1 426.4,258.4 422.6,253.4 420.9,251.9 417.9,250.4 415.4,250.4 415.1,250.6 414.4,250.6 412.1,251.9 410.9,252.9 407.9,256.1 402.9,263.6 399.4,269.9 399.4,270.9 400.1,271.9 401.6,272.6 404.1,273.1 404.4,273.4 406.4,273.4 406.6,273.6 413.6,273.6 413.9,273.4 415.9,273.4 417.4,272.9 418.9,272.9 419.1,272.6 420.4,272.6 420.6,272.4 422.4,272.1 425.4,271.1 426.1,270.6 427.4,270.4 430.4,268.6 430.9,268.1ZM477.9,251.1 475.4,247.6 472.9,245.1 470.1,243.6 467.4,243.6 465.6,244.4 464.6,245.1 460.4,249.4 457.4,253.1 457.1,254.1 457.6,254.9 458.6,255.4 460.1,255.4 460.4,255.6 465.4,255.4 466.6,254.9 467.9,254.9 468.9,254.4 469.9,254.4 475.4,252.6 477.6,251.6Z" fill="#00ff00" fill-rule="evenodd" stroke="#002050" stroke-opacity="0.45" stroke-width="0.45"/>
<path d="M440.9,285.6 440.9,285.9 441.6,286.4 448.6,286.6 448.9,286.9 452.1,286.9 452.4,287.1 453.4,287.1 453.6,286.9 453.4,286.4 450.4,283.6 448.1,282.4 447.4,282.4 447.1,282.1 444.9,282.4 443.4,283.1ZM429.1,263.1 424.9,256.1 422.4,253.1 420.9,251.9 417.9,250.4 415.4,250.4 415.1,250.6 414.4,250.6 412.1,251.9 409.1,254.6 404.9,260.4 401.9,265.4 401.6,266.6 401.9,267.1 402.9,267.9 406.4,268.9 409.1,268.9 409.4,269.1 411.1,268.9 411.9,269.1 412.1,268.9 417.4,268.6 418.9,268.1 420.1,268.1 421.1,267.6 421.9,267.6 422.9,267.1 423.6,267.1 425.9,266.4 428.1,265.1 428.9,264.4ZM461.6,249.4 462.6,249.9 467.6,249.6 473.6,247.9 474.6,247.4 474.6,246.9 472.9,245.1 470.9,243.9 470.1,243.6 467.4,243.6 465.6,244.4 464.6,245.1 461.9,247.9Z" fill="#00ff00" fill-rule="evenodd" stroke="#002050" stroke-opacity="0.45" stroke-width="0.45"/>
<path d="M445.6,282.4 445.6,282.6 448.1,282.6 446.9,282.1ZM427.1,259.9 424.1,255.1 422.6,253.4 420.9,251.9 417.9,250.4 415.4,250.4 415.1,250.6 414.4,250.6 412.1,251.9 409.1,254.6 404.1,261.6 404.1,262.4 404.6,263.1 407.1,264.1 408.6,264.1 408.9,264.4 414.9,264.4 415.1,264.1 419.6,263.6 423.9,262.4 426.6,260.9Z" fill="#0fff01" fill-rule="evenodd" stroke="#002050" stroke-opacity="0.45" stroke-width="0.45"/>
<path d="M424.6,256.1 424.1,255.1 422.6,253.4 420.1,251.4 417.9,250.4 415.4,250.4 412.9,251.4 410.9,252.9 407.1,257.1 406.9,258.1 407.1,258.6 408.1,259.1 410.1,259.4 410.4,259.6 417.6,259.4 422.9,257.9 423.9,257.4Z" fill="#69ff07" fill-rule="evenodd" stroke="#002050" stroke-opacity="0.45" stroke-width="0.45"/>
<path d="M410.4,253.6 410.6,254.1 411.9,254.6 416.4,254.6 416.6,254.4 417.9,254.4 418.1,254.1 419.9,253.9 420.9,253.4 421.4,252.9 421.4,252.4 418.6,250.6 417.9,250.4 415.4,250.4 412.9,251.4 410.9,252.9Z" fill="#bcff12" fill-rule="evenodd" stroke="#002050" stroke-opacity="0.45" stroke-width="0.45"/>
<g clip-path="url(#clipb)"><g filter="url(#blb)"><path d="M343.4,277.9 341.9,278.4 338.9,281.1 334.9,286.9 327.6,299.1 327.6,300.4 328.9,301.4 330.1,301.9 332.1,295.6 335.1,289.6 338.6,284.1 343.1,278.9ZM414.4,250.9 412.9,251.4 410.9,252.9 406.4,258.1 402.9,263.6 391.4,284.6 386.6,291.9 381.4,298.1 381.1,299.6 383.4,302.1 388.4,303.9 392.6,291.9 400.6,273.9 406.4,262.9 410.6,256.1 414.1,251.9ZM467.6,243.9 466.6,243.9 464.6,245.1 460.4,249.4 453.4,258.9 439.9,282.4 439.9,283.6 440.9,285.4 443.9,282.6 446.4,281.4 448.1,275.1 452.1,266.9 461.6,251.6Z" fill="#fff" fill-opacity="0.15" fill-rule="evenodd"/>
<path d="M388.1,291.4 381.1,298.9 381.6,300.6 383.9,302.4 386.9,295.9ZM442.6,280.9 442.1,280.9 440.4,282.9 440.4,284.1 440.9,284.6 442.9,282.1ZM412.9,252.1 411.4,252.9 409.4,254.9 406.9,258.9ZM466.1,244.9 463.9,246.1 459.6,250.6 456.1,255.4 452.4,262.4 455.6,258.9Z" fill="#fff" fill-opacity="0.15" fill-rule="evenodd"/>
<path d="M345.6,277.6 341.9,282.9 337.9,291.4 335.4,300.4 335.4,307.6 347.4,307.9 352.4,307.4 362.1,305.4 367.1,303.4 367.6,302.9 367.6,301.9 365.6,300.4 361.4,295.9 351.1,281.1 347.6,278.1ZM416.9,250.4 413.4,254.9 410.4,260.6 403.6,277.9 397.4,297.6 396.6,301.6 396.6,307.6 397.4,310.4 409.1,310.6 421.4,309.1 430.1,306.6 430.1,307.6 428.1,312.1 424.6,318.6 428.6,311.9 435.9,295.1 440.6,286.1 439.4,283.6 438.6,283.4 431.6,268.1 426.4,258.4 422.4,253.1 420.1,251.4ZM469.9,243.9 465.9,248.1 460.9,255.9 453.6,271.6 450.4,282.6 455.9,290.4 467.9,310.6 472.1,316.9 478.6,324.4 479.6,324.4 480.1,323.1 479.6,321.4 473.9,315.6 469.6,310.1 458.9,293.6 470.6,292.4 491.9,287.6 507.4,285.1 499.6,281.4 493.4,275.6 487.6,267.6 481.4,256.6 476.4,248.9 472.9,245.1 470.9,243.9Z" fill="#001" fill-opacity="0.06" fill-rule="evenodd"/>
<path d="M345.9,278.1 342.6,284.1 339.4,294.1 338.4,301.4 338.6,304.9 339.4,307.6 347.4,307.9 352.4,307.4 362.1,305.4 367.1,303.4 367.6,302.9 367.6,301.9 365.6,300.4 361.4,295.9 351.1,281.1 347.6,278.1ZM417.9,250.6 416.1,252.1 413.6,256.4 407.9,271.9 402.6,291.1 401.4,298.9 401.4,303.9 402.1,307.4 403.9,310.6 409.1,310.6 418.6,309.6 430.1,306.6 430.1,307.6 426.4,315.4 429.6,309.1 435.6,295.1 439.9,287.6 440.4,285.9 439.1,283.4 438.6,283.4 431.6,268.1 426.4,258.4 422.4,253.1 420.1,251.4ZM470.4,244.4 467.9,246.9 464.1,252.1 459.6,261.1 454.6,275.9 452.9,283.1 452.9,285.9 456.9,291.4 465.1,305.6 471.9,316.1 478.6,324.1 479.6,324.4 480.1,323.1 479.6,321.4 473.9,315.6 469.6,310.1 458.9,293.6 470.6,292.4 486.9,288.6 501.9,286.1 503.6,285.1 503.9,284.4 497.4,279.6 493.4,275.6 487.6,267.6 481.4,256.6 476.4,248.9 472.9,245.1 471.6,244.4Z" fill="#001" fill-opacity="0.06" fill-rule="evenodd"/>
<path d="M346.9,278.4 345.9,279.9 343.9,285.6 342.1,295.1 342.4,302.6 343.4,305.9 344.6,307.9 355.4,306.9 362.1,305.4 367.1,303.4 367.6,302.9 367.6,301.9 365.6,300.4 361.4,295.9 352.4,282.6 349.4,279.4ZM419.1,251.1 418.1,251.1 417.1,252.1 414.1,258.4 410.6,269.9 407.1,286.1 406.1,295.1 406.4,301.1 407.6,305.9 410.6,310.4 421.4,309.1 429.6,306.6 430.4,306.9 430.1,307.4 435.6,294.6 440.1,286.9 439.1,283.6 438.6,283.4 427.9,260.9 422.6,253.4 420.9,251.9ZM470.9,245.1 465.6,251.9 461.1,261.9 457.6,275.9 456.4,287.6 455.4,287.9 455.4,288.4 465.4,305.6 471.6,315.4 475.9,320.9 479.6,324.4 480.1,323.1 479.6,321.4 473.9,315.6 469.6,310.1 458.9,293.6 470.6,292.4 486.9,288.6 495.6,287.1 500.4,282.9 493.4,275.6 490.1,271.4 476.4,248.9 472.9,245.4Z" fill="#001" fill-opacity="0.05" fill-rule="evenodd"/>
<polygon points="282,319.5 482.6,333.3 546.3,296.3 345.7,282.5" fill="url(#dgb)"/></g></g></g>
<ellipse cx="513.4" cy="299.8" rx="5.2" ry="2.4" fill="#0a3cff" fill-opacity="0.75"/><ellipse cx="513.2" cy="299.4" rx="2.8" ry="1.2" fill="#1858ff" fill-opacity="0.6"/>
<path d="M282,319.5L482.6,333.3L546.3,296.3" stroke="#101040" stroke-width="0.6" fill="none" stroke-opacity="0.8"/>
<path d="M282,319.5v1.8M289.7,320v1.8M297.4,320.6v1.8M305.1,321.1v1.8M312.9,321.6v1.8M320.6,322.2v1.8M328.3,322.7v1.8M336,323.2v1.8M343.7,323.7v1.8M351.4,324.3v1.8M359.2,324.8v1.8M366.9,325.3v1.8M374.6,325.9v1.8M382.3,326.4v1.8M390,326.9v1.8M397.7,327.5v1.8M405.4,328v1.8M413.2,328.5v1.8M420.9,329.1v1.8M428.6,329.6v1.8M436.3,330.1v1.8M444,330.6v1.8M451.7,331.2v1.8M459.5,331.7v1.8M467.2,332.2v1.8M474.9,332.8v1.8M482.6,333.3v1.8M486.1,331.2l1.3,1.2M489.7,329.2l1.3,1.2M493.2,327.1l1.3,1.2M496.8,325.1l1.3,1.2M500.3,323l1.3,1.2M503.8,321l1.3,1.2M507.4,318.9l1.3,1.2M510.9,316.9l1.3,1.2M514.5,314.8l1.3,1.2M518,312.7l1.3,1.2M521.5,310.7l1.3,1.2M525.1,308.6l1.3,1.2M528.6,306.6l1.3,1.2M532.1,304.5l1.3,1.2M535.7,302.5l1.3,1.2M539.2,300.4l1.3,1.2M542.8,298.4l1.3,1.2M546.3,296.3l1.3,1.2" stroke="#222" stroke-width="0.6" fill="none"/>
<g font-size="8.7" fill="#222" stroke="#222" stroke-width="0.12" text-anchor="end">
<text x="278.3" y="314.8">0.05</text>
<text x="278.3" y="300.2">0.10</text>
<text x="278.3" y="285.5">0.15</text>
<text x="278.3" y="270.9">0.20</text>
<text x="278.3" y="256.2">0.25</text>
<text x="278.3" y="241.5">0.30</text>
</g>
<path d="M279.4,311.7h3.5M281.1,304.4h1.8M279.4,297.1h3.5M281.1,289.8h1.8M279.4,282.4h3.5M281.1,275.1h1.8M279.4,267.8h3.5M281.1,260.4h1.8M279.4,253.1h3.5M281.1,245.8h1.8M279.4,238.4h3.5" stroke="#222" stroke-width="0.9" fill="none"/>
<text transform="translate(250.5,280) rotate(-90)" font-size="8.3" font-weight="bold" fill="#222" text-anchor="middle">MSDI</text>
<text transform="translate(373,338.3) scale(0.94,1)" font-size="8.9" fill="#2a3040" stroke="#2a3040" stroke-width="0.3" text-anchor="middle">[1-14]</text>
<text transform="translate(519.2,328.6) rotate(-29.5)" font-size="8.9" fill="#2a3040" stroke="#2a3040" stroke-width="0.3" text-anchor="middle">[A-J]</text>
<g font-size="8.8" fill="#263048" stroke="#263048" stroke-width="0.2" text-anchor="middle">
<text x="350" y="272.1">0.137</text>
<text x="426" y="248.8">0.219</text>
<text x="478" y="239.6">0.181</text>
<text x="442.6" y="302.5">0.178</text>
</g>
<g class="cap" font-size="12" fill="#111" text-anchor="middle"><text x="121.5" y="372">(<tspan font-weight="bold">a</tspan>)</text><text x="439" y="372">(<tspan font-weight="bold">b</tspan>)</text></g>
</svg>
</body></html>
